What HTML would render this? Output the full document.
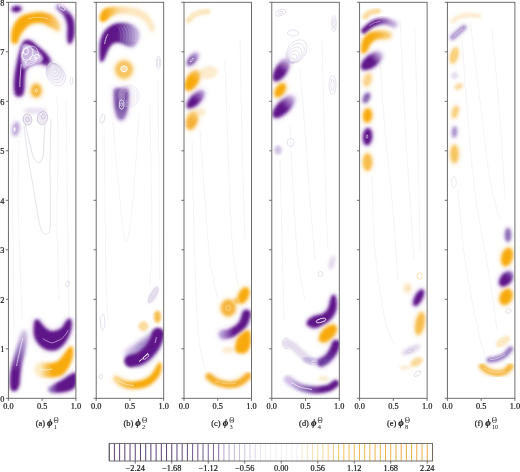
<!DOCTYPE html><html><head><meta charset="utf-8"><style>html,body{margin:0;padding:0;background:#fff;width:520px;height:472px;overflow:hidden}svg{display:block}text{font-family:"Liberation Serif","DejaVu Serif",serif;fill:#111}.t{stroke:#111;stroke-width:0.18px}</style></head><body>
<svg width="520" height="472" viewBox="0 0 520 472">
<defs>
<filter id="b0" x="-50%" y="-50%" width="200%" height="200%"><feGaussianBlur stdDeviation="0.50"/></filter>
<filter id="b1" x="-50%" y="-50%" width="200%" height="200%"><feGaussianBlur stdDeviation="1.10"/></filter>
<filter id="b2" x="-50%" y="-50%" width="200%" height="200%"><feGaussianBlur stdDeviation="1.80"/></filter>
<filter id="b3" x="-50%" y="-50%" width="200%" height="200%"><feGaussianBlur stdDeviation="2.60"/></filter>
<filter id="b4" x="-50%" y="-50%" width="200%" height="200%"><feGaussianBlur stdDeviation="3.50"/></filter>
<clipPath id="c0"><rect x="8.40" y="2.30" width="67.50" height="396.00"/></clipPath>
<clipPath id="c1"><rect x="96.20" y="2.30" width="67.50" height="396.00"/></clipPath>
<clipPath id="c2"><rect x="184.00" y="2.30" width="67.50" height="396.00"/></clipPath>
<clipPath id="c3"><rect x="271.80" y="2.30" width="67.50" height="396.00"/></clipPath>
<clipPath id="c4"><rect x="359.60" y="2.30" width="67.50" height="396.00"/></clipPath>
<clipPath id="c5"><rect x="447.40" y="2.30" width="67.50" height="396.00"/></clipPath>
</defs>
<g clip-path="url(#c0)">
<path d="M19.00,140.00 C18.83,150.00 17.83,180.00 18.00,200.00 C18.17,220.00 19.33,240.00 20.00,260.00 C20.67,280.00 21.67,310.00 22.00,320.00" fill="none" stroke="#e9e7ed" stroke-width="0.50" opacity="1.00"/>
<path d="M57.00,95.00 C57.17,104.17 58.00,129.17 58.00,150.00 C58.00,170.83 56.83,195.00 57.00,220.00 C57.17,245.00 58.67,286.67 59.00,300.00" fill="none" stroke="#e9e7ed" stroke-width="0.50" opacity="1.00"/>
<path d="M66.00,100.00 C66.17,111.67 66.67,145.00 67.00,170.00 C67.33,195.00 67.67,225.00 68.00,250.00 C68.33,275.00 68.83,308.33 69.00,320.00" fill="none" stroke="#e9e7ed" stroke-width="0.50" opacity="1.00"/>
<path d="M12.00,150.00 C12.17,166.67 12.67,220.00 13.00,250.00 C13.33,280.00 13.83,316.67 14.00,330.00" fill="none" stroke="#e9e7ed" stroke-width="0.50" opacity="1.00"/>
<ellipse cx="16.50" cy="9.00" rx="6.60" ry="4.60" transform="rotate(-5.0 16.50 9.00)" fill="#d6bfe8" filter="url(#b3)" opacity="0.85"/>
<ellipse cx="16.50" cy="9.00" rx="5.00" ry="3.00" transform="rotate(-5.0 16.50 9.00)" fill="#5e1288" filter="url(#b2)" opacity="1.00"/>
<path d="M12.00,42.00 C11.38,40.25 11.38,35.92 11.80,33.00 C12.22,30.08 13.22,27.00 14.50,24.50 C15.78,22.00 17.67,19.62 19.50,18.00 C21.33,16.38 23.33,15.60 25.50,14.80 C27.67,14.00 30.08,13.57 32.50,13.20 C34.92,12.83 37.58,12.55 40.00,12.60 C42.42,12.65 44.92,12.97 47.00,13.50 C49.08,14.03 50.92,14.80 52.50,15.80 C54.08,16.80 55.45,18.13 56.50,19.50 C57.55,20.87 58.30,22.33 58.80,24.00 C59.30,25.67 59.72,28.42 59.50,29.50 C59.28,30.58 58.42,30.67 57.50,30.50 C56.58,30.33 55.17,29.12 54.00,28.50 C52.83,27.88 51.92,27.55 50.50,26.80 C49.08,26.05 47.25,24.72 45.50,24.00 C43.75,23.28 42.08,22.62 40.00,22.50 C37.92,22.38 35.17,22.63 33.00,23.30 C30.83,23.97 28.75,25.13 27.00,26.50 C25.25,27.87 23.75,29.92 22.50,31.50 C21.25,33.08 20.25,34.42 19.50,36.00 C18.75,37.58 18.67,39.75 18.00,41.00 C17.33,42.25 16.50,43.33 15.50,43.50 C14.50,43.67 12.62,43.75 12.00,42.00 Z" fill="#fbdca2" stroke="#fbdca2" stroke-width="2.00" stroke-linejoin="round" filter="url(#b3)" opacity="0.85"/>
<defs><linearGradient id="g1" gradientUnits="userSpaceOnUse" x1="40.00" y1="0.00" x2="58.00" y2="0.00"><stop offset="0.000" stop-color="#f7aa10"/><stop offset="0.450" stop-color="#f6b030"/><stop offset="1.000" stop-color="#f8cf80"/></linearGradient></defs>
<path d="M12.00,42.00 C11.38,40.25 11.38,35.92 11.80,33.00 C12.22,30.08 13.22,27.00 14.50,24.50 C15.78,22.00 17.67,19.62 19.50,18.00 C21.33,16.38 23.33,15.60 25.50,14.80 C27.67,14.00 30.08,13.57 32.50,13.20 C34.92,12.83 37.58,12.55 40.00,12.60 C42.42,12.65 44.92,12.97 47.00,13.50 C49.08,14.03 50.92,14.80 52.50,15.80 C54.08,16.80 55.45,18.13 56.50,19.50 C57.55,20.87 58.30,22.33 58.80,24.00 C59.30,25.67 59.72,28.42 59.50,29.50 C59.28,30.58 58.42,30.67 57.50,30.50 C56.58,30.33 55.17,29.12 54.00,28.50 C52.83,27.88 51.92,27.55 50.50,26.80 C49.08,26.05 47.25,24.72 45.50,24.00 C43.75,23.28 42.08,22.62 40.00,22.50 C37.92,22.38 35.17,22.63 33.00,23.30 C30.83,23.97 28.75,25.13 27.00,26.50 C25.25,27.87 23.75,29.92 22.50,31.50 C21.25,33.08 20.25,34.42 19.50,36.00 C18.75,37.58 18.67,39.75 18.00,41.00 C17.33,42.25 16.50,43.33 15.50,43.50 C14.50,43.67 12.62,43.75 12.00,42.00 Z" fill="url(#g1)" filter="url(#b2)" opacity="1.00"/>
<path d="M28.00,19.00 C29.00,18.75 31.67,17.75 34.00,17.50 C36.33,17.25 39.67,17.25 42.00,17.50 C44.33,17.75 47.00,18.75 48.00,19.00" fill="none" stroke="#fbe3b0" stroke-width="0.60" opacity="1.00"/>
<path d="M57.50,5.00 C58.42,4.75 60.50,5.67 62.00,6.50 C63.50,7.33 65.08,8.75 66.50,10.00 C67.92,11.25 69.33,12.33 70.50,14.00 C71.67,15.67 72.83,17.67 73.50,20.00 C74.17,22.33 74.42,25.33 74.50,28.00 C74.58,30.67 74.42,33.75 74.00,36.00 C73.58,38.25 72.70,40.17 72.00,41.50 C71.30,42.83 70.50,44.00 69.80,44.00 C69.10,44.00 68.22,43.00 67.80,41.50 C67.38,40.00 67.35,37.42 67.30,35.00 C67.25,32.58 67.67,29.42 67.50,27.00 C67.33,24.58 66.97,22.50 66.30,20.50 C65.63,18.50 64.63,16.58 63.50,15.00 C62.37,13.42 60.67,12.17 59.50,11.00 C58.33,9.83 56.83,9.00 56.50,8.00 C56.17,7.00 56.58,5.25 57.50,5.00 Z" fill="#d6bfe8" stroke="#d6bfe8" stroke-width="2.00" stroke-linejoin="round" filter="url(#b3)" opacity="0.85"/>
<defs><linearGradient id="g2" gradientUnits="userSpaceOnUse" x1="0.00" y1="6.00" x2="0.00" y2="17.00"><stop offset="0.000" stop-color="#a48ac6"/><stop offset="1.000" stop-color="#5e1288"/></linearGradient></defs>
<path d="M57.50,5.00 C58.42,4.75 60.50,5.67 62.00,6.50 C63.50,7.33 65.08,8.75 66.50,10.00 C67.92,11.25 69.33,12.33 70.50,14.00 C71.67,15.67 72.83,17.67 73.50,20.00 C74.17,22.33 74.42,25.33 74.50,28.00 C74.58,30.67 74.42,33.75 74.00,36.00 C73.58,38.25 72.70,40.17 72.00,41.50 C71.30,42.83 70.50,44.00 69.80,44.00 C69.10,44.00 68.22,43.00 67.80,41.50 C67.38,40.00 67.35,37.42 67.30,35.00 C67.25,32.58 67.67,29.42 67.50,27.00 C67.33,24.58 66.97,22.50 66.30,20.50 C65.63,18.50 64.63,16.58 63.50,15.00 C62.37,13.42 60.67,12.17 59.50,11.00 C58.33,9.83 56.83,9.00 56.50,8.00 C56.17,7.00 56.58,5.25 57.50,5.00 Z" fill="url(#g2)" filter="url(#b2)" opacity="1.00"/>
<ellipse cx="62.00" cy="8.00" rx="3.50" ry="1.60" transform="rotate(35.0 62.00 8.00)" fill="none" stroke="#ffffff" stroke-width="0.60" opacity="1.00"/>
<path d="M15.00,94.00 C14.33,92.08 14.03,88.17 14.00,85.00 C13.97,81.83 14.42,78.17 14.80,75.00 C15.18,71.83 15.65,69.33 16.30,66.00 C16.95,62.67 17.88,58.25 18.70,55.00 C19.52,51.75 20.28,48.83 21.20,46.50 C22.12,44.17 23.07,42.08 24.20,41.00 C25.33,39.92 26.70,39.92 28.00,40.00 C29.30,40.08 30.33,40.42 32.00,41.50 C33.67,42.58 36.00,44.83 38.00,46.50 C40.00,48.17 42.25,49.83 44.00,51.50 C45.75,53.17 47.30,54.75 48.50,56.50 C49.70,58.25 50.85,60.37 51.20,62.00 C51.55,63.63 51.30,65.63 50.60,66.30 C49.90,66.97 48.27,66.38 47.00,66.00 C45.73,65.62 44.50,64.47 43.00,64.00 C41.50,63.53 39.75,63.17 38.00,63.20 C36.25,63.23 34.08,63.65 32.50,64.20 C30.92,64.75 29.67,65.37 28.50,66.50 C27.33,67.63 26.17,68.75 25.50,71.00 C24.83,73.25 24.72,77.00 24.50,80.00 C24.28,83.00 24.53,86.50 24.20,89.00 C23.87,91.50 23.53,93.75 22.50,95.00 C21.47,96.25 19.25,96.67 18.00,96.50 C16.75,96.33 15.67,95.92 15.00,94.00 Z" fill="#d6bfe8" stroke="#d6bfe8" stroke-width="2.50" stroke-linejoin="round" filter="url(#b3)" opacity="0.85"/>
<path d="M15.00,94.00 C14.33,92.08 14.03,88.17 14.00,85.00 C13.97,81.83 14.42,78.17 14.80,75.00 C15.18,71.83 15.65,69.33 16.30,66.00 C16.95,62.67 17.88,58.25 18.70,55.00 C19.52,51.75 20.28,48.83 21.20,46.50 C22.12,44.17 23.07,42.08 24.20,41.00 C25.33,39.92 26.70,39.92 28.00,40.00 C29.30,40.08 30.33,40.42 32.00,41.50 C33.67,42.58 36.00,44.83 38.00,46.50 C40.00,48.17 42.25,49.83 44.00,51.50 C45.75,53.17 47.30,54.75 48.50,56.50 C49.70,58.25 50.85,60.37 51.20,62.00 C51.55,63.63 51.30,65.63 50.60,66.30 C49.90,66.97 48.27,66.38 47.00,66.00 C45.73,65.62 44.50,64.47 43.00,64.00 C41.50,63.53 39.75,63.17 38.00,63.20 C36.25,63.23 34.08,63.65 32.50,64.20 C30.92,64.75 29.67,65.37 28.50,66.50 C27.33,67.63 26.17,68.75 25.50,71.00 C24.83,73.25 24.72,77.00 24.50,80.00 C24.28,83.00 24.53,86.50 24.20,89.00 C23.87,91.50 23.53,93.75 22.50,95.00 C21.47,96.25 19.25,96.67 18.00,96.50 C16.75,96.33 15.67,95.92 15.00,94.00 Z" fill="#5e1288" filter="url(#b2)" opacity="1.00"/>
<path d="M22.00,46.00 C23.00,44.00 25.17,43.75 27.00,44.00 C28.83,44.25 30.83,46.00 33.00,47.50 C35.17,49.00 38.33,51.25 40.00,53.00 C41.67,54.75 42.83,56.42 43.00,58.00 C43.17,59.58 42.33,61.42 41.00,62.50 C39.67,63.58 37.00,63.92 35.00,64.50 C33.00,65.08 30.67,65.25 29.00,66.00 C27.33,66.75 26.17,69.00 25.00,69.00 C23.83,69.00 22.67,68.17 22.00,66.00 C21.33,63.83 21.00,59.33 21.00,56.00 C21.00,52.67 21.00,48.00 22.00,46.00 Z" fill="#cdb8e4" filter="url(#b1)" opacity="1.00"/>
<ellipse cx="33.00" cy="58.00" rx="3.50" ry="2.20" transform="rotate(-20.0 33.00 58.00)" fill="none" stroke="#ffffff" stroke-width="0.70" opacity="1.00"/>
<ellipse cx="31.00" cy="61.50" rx="6.00" ry="3.00" transform="rotate(-25.0 31.00 61.50)" fill="none" stroke="#ffffff" stroke-width="0.60" opacity="1.00"/>
<ellipse cx="25.80" cy="51.30" rx="2.60" ry="3.40" transform="rotate(0.0 25.80 51.30)" fill="none" stroke="#ffffff" stroke-width="0.90" opacity="1.00"/>
<ellipse cx="37.00" cy="56.50" rx="2.60" ry="2.10" transform="rotate(0.0 37.00 56.50)" fill="none" stroke="#ffffff" stroke-width="0.90" opacity="1.00"/>
<ellipse cx="27.50" cy="53.50" rx="5.00" ry="7.00" transform="rotate(25.0 27.50 53.50)" fill="none" stroke="#ffffff" stroke-width="0.70" opacity="1.00"/>
<ellipse cx="30.00" cy="54.50" rx="8.00" ry="9.00" transform="rotate(40.0 30.00 54.50)" fill="none" stroke="#f4eefa" stroke-width="0.60" opacity="1.00"/>
<path d="M21.30,64.00 C21.17,65.33 20.72,69.33 20.50,72.00 C20.28,74.67 20.12,77.50 20.00,80.00 C19.88,82.50 19.83,85.83 19.80,87.00" fill="none" stroke="#d8c8e8" stroke-width="0.90" opacity="1.00"/>
<ellipse cx="36.20" cy="90.60" rx="6.80" ry="8.30" transform="rotate(0.0 36.20 90.60)" fill="#fbdca2" filter="url(#b3)" opacity="0.85"/>
<ellipse cx="36.20" cy="90.60" rx="5.00" ry="6.50" transform="rotate(0.0 36.20 90.60)" fill="#f5b53a" filter="url(#b2)" opacity="1.00"/>
<ellipse cx="36.30" cy="90.60" rx="1.30" ry="1.60" transform="rotate(0.0 36.30 90.60)" fill="none" stroke="#ffffff" stroke-width="0.60" opacity="1.00"/>
<ellipse cx="56.00" cy="72.00" rx="7.00" ry="11.00" transform="rotate(-30.0 56.00 72.00)" fill="#f1edf5" filter="url(#b3)" opacity="1.00"/>
<ellipse cx="51.00" cy="65.00" rx="1.50" ry="2.50" transform="rotate(-30.0 51.00 65.00)" fill="none" stroke="#cdc2dc" stroke-width="0.50" opacity="0.85"/>
<ellipse cx="51.80" cy="66.60" rx="2.70" ry="4.10" transform="rotate(-30.0 51.80 66.60)" fill="none" stroke="#cdc2dc" stroke-width="0.50" opacity="0.85"/>
<ellipse cx="52.60" cy="68.20" rx="3.90" ry="5.70" transform="rotate(-30.0 52.60 68.20)" fill="none" stroke="#cdc2dc" stroke-width="0.50" opacity="0.85"/>
<ellipse cx="53.40" cy="69.80" rx="5.10" ry="7.30" transform="rotate(-30.0 53.40 69.80)" fill="none" stroke="#cdc2dc" stroke-width="0.50" opacity="0.85"/>
<ellipse cx="54.20" cy="71.40" rx="6.30" ry="8.90" transform="rotate(-30.0 54.20 71.40)" fill="none" stroke="#cdc2dc" stroke-width="0.50" opacity="0.85"/>
<ellipse cx="55.00" cy="73.00" rx="7.50" ry="10.50" transform="rotate(-30.0 55.00 73.00)" fill="none" stroke="#cdc2dc" stroke-width="0.50" opacity="0.85"/>
<ellipse cx="55.80" cy="74.60" rx="8.70" ry="12.10" transform="rotate(-30.0 55.80 74.60)" fill="none" stroke="#cdc2dc" stroke-width="0.50" opacity="0.85"/>
<ellipse cx="71.40" cy="80.70" rx="1.30" ry="3.50" transform="rotate(0.0 71.40 80.70)" fill="none" stroke="#cdc2da" stroke-width="0.50" opacity="1.00"/>
<ellipse cx="67.50" cy="284.00" rx="1.80" ry="3.00" transform="rotate(20.0 67.50 284.00)" fill="none" stroke="#cdc2da" stroke-width="0.50" opacity="1.00"/>
<ellipse cx="35.50" cy="111.00" rx="12.00" ry="3.50" transform="rotate(0.0 35.50 111.00)" fill="#e4dcee" filter="url(#b2)" opacity="0.80"/>
<ellipse cx="27.50" cy="119.50" rx="4.00" ry="5.00" transform="rotate(-10.0 27.50 119.50)" fill="#ece6f2" filter="url(#b1)" opacity="1.00"/>
<ellipse cx="42.50" cy="118.00" rx="4.50" ry="6.00" transform="rotate(15.0 42.50 118.00)" fill="#ece6f2" filter="url(#b1)" opacity="1.00"/>
<ellipse cx="27.50" cy="119.50" rx="4.30" ry="5.50" transform="rotate(-10.0 27.50 119.50)" fill="none" stroke="#b8aac8" stroke-width="0.60" opacity="1.00"/>
<ellipse cx="27.50" cy="119.50" rx="1.80" ry="2.50" transform="rotate(-10.0 27.50 119.50)" fill="none" stroke="#b8aac8" stroke-width="0.50" opacity="1.00"/>
<ellipse cx="42.50" cy="118.00" rx="5.00" ry="6.50" transform="rotate(15.0 42.50 118.00)" fill="none" stroke="#b8aac8" stroke-width="0.60" opacity="1.00"/>
<ellipse cx="43.50" cy="116.50" rx="1.80" ry="2.40" transform="rotate(15.0 43.50 116.50)" fill="none" stroke="#b8aac8" stroke-width="0.50" opacity="1.00"/>
<path d="M25.00,123.00 C25.67,125.83 27.58,134.33 29.00,140.00 C30.42,145.67 31.92,153.25 33.50,157.00 C35.08,160.75 36.92,162.50 38.50,162.50 C40.08,162.50 42.08,160.75 43.00,157.00 C43.92,153.25 43.67,145.50 44.00,140.00 C44.33,134.50 44.83,126.67 45.00,124.00" fill="none" stroke="#cfc8d8" stroke-width="0.60" opacity="1.00"/>
<path d="M24.00,126.00 C24.50,130.00 25.67,141.00 27.00,150.00 C28.33,159.00 30.33,170.00 32.00,180.00 C33.67,190.00 35.50,201.83 37.00,210.00 C38.50,218.17 39.58,225.00 41.00,229.00 C42.42,233.00 44.00,234.00 45.50,234.00 C47.00,234.00 49.17,234.67 50.00,229.00 C50.83,223.33 50.50,209.83 50.50,200.00 C50.50,190.17 50.00,180.00 50.00,170.00 C50.00,160.00 50.33,148.50 50.50,140.00 C50.67,131.50 50.92,122.50 51.00,119.00" fill="none" stroke="#d6d0dc" stroke-width="0.60" opacity="1.00"/>
<ellipse cx="15.80" cy="129.00" rx="4.70" ry="8.50" transform="rotate(10.0 15.80 129.00)" fill="#e6def0" filter="url(#b3)" opacity="0.85"/>
<ellipse cx="15.80" cy="129.00" rx="3.20" ry="7.00" transform="rotate(10.0 15.80 129.00)" fill="#bea8d8" filter="url(#b2)" opacity="1.00"/>
<ellipse cx="14.60" cy="129.50" rx="0.90" ry="2.60" transform="rotate(10.0 14.60 129.50)" fill="#ffffff" filter="url(#b0)" opacity="1.00"/>
<path d="M35.00,320.50 C34.22,321.83 33.88,325.25 33.80,328.00 C33.72,330.75 33.63,334.25 34.50,337.00 C35.37,339.75 37.08,342.42 39.00,344.50 C40.92,346.58 43.50,348.50 46.00,349.50 C48.50,350.50 51.58,350.83 54.00,350.50 C56.42,350.17 58.58,348.92 60.50,347.50 C62.42,346.08 64.00,344.17 65.50,342.00 C67.00,339.83 68.47,337.17 69.50,334.50 C70.53,331.83 71.45,328.50 71.70,326.00 C71.95,323.50 71.53,320.67 71.00,319.50 C70.47,318.33 69.42,318.58 68.50,319.00 C67.58,319.42 66.58,320.58 65.50,322.00 C64.42,323.42 63.50,326.08 62.00,327.50 C60.50,328.92 58.33,329.92 56.50,330.50 C54.67,331.08 52.75,331.33 51.00,331.00 C49.25,330.67 47.58,329.75 46.00,328.50 C44.42,327.25 42.75,324.92 41.50,323.50 C40.25,322.08 39.58,320.50 38.50,320.00 C37.42,319.50 35.78,319.17 35.00,320.50 Z" fill="#d6bfe8" stroke="#d6bfe8" stroke-width="2.50" stroke-linejoin="round" filter="url(#b3)" opacity="0.85"/>
<path d="M35.00,320.50 C34.22,321.83 33.88,325.25 33.80,328.00 C33.72,330.75 33.63,334.25 34.50,337.00 C35.37,339.75 37.08,342.42 39.00,344.50 C40.92,346.58 43.50,348.50 46.00,349.50 C48.50,350.50 51.58,350.83 54.00,350.50 C56.42,350.17 58.58,348.92 60.50,347.50 C62.42,346.08 64.00,344.17 65.50,342.00 C67.00,339.83 68.47,337.17 69.50,334.50 C70.53,331.83 71.45,328.50 71.70,326.00 C71.95,323.50 71.53,320.67 71.00,319.50 C70.47,318.33 69.42,318.58 68.50,319.00 C67.58,319.42 66.58,320.58 65.50,322.00 C64.42,323.42 63.50,326.08 62.00,327.50 C60.50,328.92 58.33,329.92 56.50,330.50 C54.67,331.08 52.75,331.33 51.00,331.00 C49.25,330.67 47.58,329.75 46.00,328.50 C44.42,327.25 42.75,324.92 41.50,323.50 C40.25,322.08 39.58,320.50 38.50,320.00 C37.42,319.50 35.78,319.17 35.00,320.50 Z" fill="#5e1288" filter="url(#b2)" opacity="1.00"/>
<path d="M42.70,338.60 C43.42,339.00 45.42,340.30 47.00,341.00 C48.58,341.70 50.53,342.80 52.20,342.80 C53.87,342.80 55.40,341.70 57.00,341.00 C58.60,340.30 60.30,339.77 61.80,338.60 C63.30,337.43 64.97,335.43 66.00,334.00 C67.03,332.57 67.67,330.67 68.00,330.00" fill="none" stroke="#c8a8e0" stroke-width="0.80" opacity="1.00"/>
<path d="M36.00,372.00 C36.58,373.75 38.83,375.17 40.50,376.00 C42.17,376.83 43.75,376.83 46.00,377.00 C48.25,377.17 51.42,377.28 54.00,377.00 C56.58,376.72 59.37,376.47 61.50,375.30 C63.63,374.13 65.28,372.05 66.80,370.00 C68.32,367.95 69.63,365.33 70.60,363.00 C71.57,360.67 72.23,358.33 72.60,356.00 C72.97,353.67 72.98,350.58 72.80,349.00 C72.62,347.42 72.13,346.70 71.50,346.50 C70.87,346.30 69.92,346.97 69.00,347.80 C68.08,348.63 67.17,349.97 66.00,351.50 C64.83,353.03 63.33,355.42 62.00,357.00 C60.67,358.58 59.33,360.03 58.00,361.00 C56.67,361.97 55.67,362.42 54.00,362.80 C52.33,363.18 50.17,363.22 48.00,363.30 C45.83,363.38 42.83,362.93 41.00,363.30 C39.17,363.67 37.83,364.05 37.00,365.50 C36.17,366.95 35.42,370.25 36.00,372.00 Z" fill="#fde9c4" stroke="#fde9c4" stroke-width="2.00" stroke-linejoin="round" filter="url(#b3)" opacity="0.85"/>
<defs><linearGradient id="g3" gradientUnits="userSpaceOnUse" x1="40.00" y1="0.00" x2="52.00" y2="0.00"><stop offset="0.000" stop-color="#fcecc8"/><stop offset="0.500" stop-color="#f8c860"/><stop offset="1.000" stop-color="#f7aa10"/></linearGradient></defs>
<path d="M36.00,372.00 C36.58,373.75 38.83,375.17 40.50,376.00 C42.17,376.83 43.75,376.83 46.00,377.00 C48.25,377.17 51.42,377.28 54.00,377.00 C56.58,376.72 59.37,376.47 61.50,375.30 C63.63,374.13 65.28,372.05 66.80,370.00 C68.32,367.95 69.63,365.33 70.60,363.00 C71.57,360.67 72.23,358.33 72.60,356.00 C72.97,353.67 72.98,350.58 72.80,349.00 C72.62,347.42 72.13,346.70 71.50,346.50 C70.87,346.30 69.92,346.97 69.00,347.80 C68.08,348.63 67.17,349.97 66.00,351.50 C64.83,353.03 63.33,355.42 62.00,357.00 C60.67,358.58 59.33,360.03 58.00,361.00 C56.67,361.97 55.67,362.42 54.00,362.80 C52.33,363.18 50.17,363.22 48.00,363.30 C45.83,363.38 42.83,362.93 41.00,363.30 C39.17,363.67 37.83,364.05 37.00,365.50 C36.17,366.95 35.42,370.25 36.00,372.00 Z" fill="url(#g3)" filter="url(#b2)" opacity="1.00"/>
<path d="M40.00,369.00 C41.00,369.17 44.00,370.00 46.00,370.00 C48.00,370.00 51.00,369.17 52.00,369.00" fill="none" stroke="#ffffff" stroke-width="0.60" opacity="1.00"/>
<path d="M48.50,388.50 C48.83,387.53 50.58,386.95 52.00,386.00 C53.42,385.05 55.17,383.88 57.00,382.80 C58.83,381.72 61.17,380.63 63.00,379.50 C64.83,378.37 66.50,376.92 68.00,376.00 C69.50,375.08 70.75,374.50 72.00,374.00 C73.25,373.50 74.75,371.83 75.50,373.00 C76.25,374.17 76.67,378.58 76.50,381.00 C76.33,383.42 75.75,385.87 74.50,387.50 C73.25,389.13 71.08,390.00 69.00,390.80 C66.92,391.60 64.33,392.00 62.00,392.30 C59.67,392.60 57.00,392.68 55.00,392.60 C53.00,392.52 51.08,392.48 50.00,391.80 C48.92,391.12 48.17,389.47 48.50,388.50 Z" fill="#d6bfe8" stroke="#d6bfe8" stroke-width="2.00" stroke-linejoin="round" filter="url(#b3)" opacity="0.85"/>
<defs><linearGradient id="g4" gradientUnits="userSpaceOnUse" x1="49.00" y1="0.00" x2="58.00" y2="0.00"><stop offset="0.000" stop-color="#a088c4"/><stop offset="1.000" stop-color="#5e1288"/></linearGradient></defs>
<path d="M48.50,388.50 C48.83,387.53 50.58,386.95 52.00,386.00 C53.42,385.05 55.17,383.88 57.00,382.80 C58.83,381.72 61.17,380.63 63.00,379.50 C64.83,378.37 66.50,376.92 68.00,376.00 C69.50,375.08 70.75,374.50 72.00,374.00 C73.25,373.50 74.75,371.83 75.50,373.00 C76.25,374.17 76.67,378.58 76.50,381.00 C76.33,383.42 75.75,385.87 74.50,387.50 C73.25,389.13 71.08,390.00 69.00,390.80 C66.92,391.60 64.33,392.00 62.00,392.30 C59.67,392.60 57.00,392.68 55.00,392.60 C53.00,392.52 51.08,392.48 50.00,391.80 C48.92,391.12 48.17,389.47 48.50,388.50 Z" fill="url(#g4)" filter="url(#b2)" opacity="1.00"/>
<path d="M10.80,389.00 C9.88,386.83 9.93,381.50 10.00,378.00 C10.07,374.50 10.57,371.33 11.20,368.00 C11.83,364.67 12.87,361.33 13.80,358.00 C14.73,354.67 15.80,351.17 16.80,348.00 C17.80,344.83 18.83,341.75 19.80,339.00 C20.77,336.25 21.57,332.67 22.60,331.50 C23.63,330.33 25.35,330.42 26.00,332.00 C26.65,333.58 26.75,337.50 26.50,341.00 C26.25,344.50 25.28,349.17 24.50,353.00 C23.72,356.83 22.52,360.33 21.80,364.00 C21.08,367.67 20.63,371.42 20.20,375.00 C19.77,378.58 19.98,382.83 19.20,385.50 C18.42,388.17 16.90,390.42 15.50,391.00 C14.10,391.58 11.72,391.17 10.80,389.00 Z" fill="#e0d4ec" stroke="#e0d4ec" stroke-width="2.00" stroke-linejoin="round" filter="url(#b3)" opacity="0.85"/>
<defs><linearGradient id="g5" gradientUnits="userSpaceOnUse" x1="0.00" y1="334.00" x2="0.00" y2="372.00"><stop offset="0.000" stop-color="#d0c0e4"/><stop offset="0.450" stop-color="#9a7cc0"/><stop offset="1.000" stop-color="#5e1288"/></linearGradient></defs>
<path d="M10.80,389.00 C9.88,386.83 9.93,381.50 10.00,378.00 C10.07,374.50 10.57,371.33 11.20,368.00 C11.83,364.67 12.87,361.33 13.80,358.00 C14.73,354.67 15.80,351.17 16.80,348.00 C17.80,344.83 18.83,341.75 19.80,339.00 C20.77,336.25 21.57,332.67 22.60,331.50 C23.63,330.33 25.35,330.42 26.00,332.00 C26.65,333.58 26.75,337.50 26.50,341.00 C26.25,344.50 25.28,349.17 24.50,353.00 C23.72,356.83 22.52,360.33 21.80,364.00 C21.08,367.67 20.63,371.42 20.20,375.00 C19.77,378.58 19.98,382.83 19.20,385.50 C18.42,388.17 16.90,390.42 15.50,391.00 C14.10,391.58 11.72,391.17 10.80,389.00 Z" fill="url(#g5)" filter="url(#b2)" opacity="1.00"/>
<path d="M16.50,366.00 C17.00,363.67 18.45,356.67 19.50,352.00 C20.55,347.33 22.25,340.33 22.80,338.00" fill="none" stroke="#ffffff" stroke-width="0.60" opacity="1.00"/>
</g>
<g clip-path="url(#c1)">
<path d="M113.00,122.00 C113.50,128.33 114.83,147.00 116.00,160.00 C117.17,173.00 118.67,187.33 120.00,200.00 C121.33,212.67 122.67,229.67 124.00,236.00 C125.33,242.33 126.50,244.00 128.00,238.00 C129.50,232.00 131.67,213.00 133.00,200.00 C134.33,187.00 135.00,174.67 136.00,160.00 C137.00,145.33 138.50,120.00 139.00,112.00" fill="none" stroke="#e9e7ed" stroke-width="0.50" opacity="1.00"/>
<path d="M104.00,130.00 C104.17,141.67 104.67,175.00 105.00,200.00 C105.33,225.00 105.50,260.00 106.00,280.00 C106.50,300.00 107.67,313.33 108.00,320.00" fill="none" stroke="#e9e7ed" stroke-width="0.50" opacity="1.00"/>
<path d="M150.00,105.00 C150.17,115.83 150.67,147.50 151.00,170.00 C151.33,192.50 152.17,220.83 152.00,240.00 C151.83,259.17 150.33,277.50 150.00,285.00" fill="none" stroke="#e9e7ed" stroke-width="0.50" opacity="1.00"/>
<path d="M158.00,80.00 C158.17,96.67 158.67,146.67 159.00,180.00 C159.33,213.33 159.83,263.33 160.00,280.00" fill="none" stroke="#e9e7ed" stroke-width="0.50" opacity="1.00"/>
<path d="M99.80,18.00 C99.72,16.42 100.63,14.03 101.50,12.50 C102.37,10.97 103.58,9.67 105.00,8.80 C106.42,7.93 108.17,7.60 110.00,7.30 C111.83,7.00 113.67,7.00 116.00,7.00 C118.33,7.00 121.33,7.08 124.00,7.30 C126.67,7.52 129.33,7.77 132.00,8.30 C134.67,8.83 137.67,9.47 140.00,10.50 C142.33,11.53 144.25,12.92 146.00,14.50 C147.75,16.08 149.25,17.83 150.50,20.00 C151.75,22.17 153.08,25.67 153.50,27.50 C153.92,29.33 153.42,30.50 153.00,31.00 C152.58,31.50 151.78,31.58 151.00,30.50 C150.22,29.42 149.47,26.33 148.30,24.50 C147.13,22.67 145.72,20.92 144.00,19.50 C142.28,18.08 140.33,16.95 138.00,16.00 C135.67,15.05 132.67,14.25 130.00,13.80 C127.33,13.35 124.33,13.27 122.00,13.30 C119.67,13.33 117.92,13.42 116.00,14.00 C114.08,14.58 112.17,15.72 110.50,16.80 C108.83,17.88 107.42,19.63 106.00,20.50 C104.58,21.37 103.03,22.42 102.00,22.00 C100.97,21.58 99.88,19.58 99.80,18.00 Z" fill="#fdebc8" stroke="#fdebc8" stroke-width="1.50" stroke-linejoin="round" filter="url(#b3)" opacity="0.85"/>
<defs><linearGradient id="g6" gradientUnits="userSpaceOnUse" x1="106.00" y1="0.00" x2="130.00" y2="0.00"><stop offset="0.000" stop-color="#f7aa10"/><stop offset="0.250" stop-color="#f7c050"/><stop offset="0.550" stop-color="#fadaa0"/><stop offset="1.000" stop-color="#fce6c0"/></linearGradient></defs>
<path d="M99.80,18.00 C99.72,16.42 100.63,14.03 101.50,12.50 C102.37,10.97 103.58,9.67 105.00,8.80 C106.42,7.93 108.17,7.60 110.00,7.30 C111.83,7.00 113.67,7.00 116.00,7.00 C118.33,7.00 121.33,7.08 124.00,7.30 C126.67,7.52 129.33,7.77 132.00,8.30 C134.67,8.83 137.67,9.47 140.00,10.50 C142.33,11.53 144.25,12.92 146.00,14.50 C147.75,16.08 149.25,17.83 150.50,20.00 C151.75,22.17 153.08,25.67 153.50,27.50 C153.92,29.33 153.42,30.50 153.00,31.00 C152.58,31.50 151.78,31.58 151.00,30.50 C150.22,29.42 149.47,26.33 148.30,24.50 C147.13,22.67 145.72,20.92 144.00,19.50 C142.28,18.08 140.33,16.95 138.00,16.00 C135.67,15.05 132.67,14.25 130.00,13.80 C127.33,13.35 124.33,13.27 122.00,13.30 C119.67,13.33 117.92,13.42 116.00,14.00 C114.08,14.58 112.17,15.72 110.50,16.80 C108.83,17.88 107.42,19.63 106.00,20.50 C104.58,21.37 103.03,22.42 102.00,22.00 C100.97,21.58 99.88,19.58 99.80,18.00 Z" fill="url(#g6)" filter="url(#b2)" opacity="1.00"/>
<path d="M100.40,61.00 C99.82,59.50 99.60,54.83 99.50,52.00 C99.40,49.17 99.47,46.50 99.80,44.00 C100.13,41.50 100.72,39.12 101.50,37.00 C102.28,34.88 103.25,32.97 104.50,31.30 C105.75,29.63 107.45,28.17 109.00,27.00 C110.55,25.83 111.97,24.97 113.80,24.30 C115.63,23.63 117.87,23.18 120.00,23.00 C122.13,22.82 124.60,22.87 126.60,23.20 C128.60,23.53 130.27,24.03 132.00,25.00 C133.73,25.97 135.83,27.50 137.00,29.00 C138.17,30.50 138.78,32.33 139.00,34.00 C139.22,35.67 138.80,37.33 138.30,39.00 C137.80,40.67 136.97,42.75 136.00,44.00 C135.03,45.25 134.00,46.17 132.50,46.50 C131.00,46.83 128.58,46.42 127.00,46.00 C125.42,45.58 124.67,44.58 123.00,44.00 C121.33,43.42 118.83,42.42 117.00,42.50 C115.17,42.58 113.42,43.42 112.00,44.50 C110.58,45.58 109.50,47.25 108.50,49.00 C107.50,50.75 106.92,53.00 106.00,55.00 C105.08,57.00 103.93,60.00 103.00,61.00 C102.07,62.00 100.98,62.50 100.40,61.00 Z" fill="#e0d6ee" stroke="#e0d6ee" stroke-width="2.00" stroke-linejoin="round" filter="url(#b3)" opacity="0.85"/>
<defs><linearGradient id="g7" gradientUnits="userSpaceOnUse" x1="108.00" y1="0.00" x2="138.00" y2="0.00"><stop offset="0.000" stop-color="#5e1288"/><stop offset="0.300" stop-color="#5e1288"/><stop offset="0.550" stop-color="#7a52a8"/><stop offset="1.000" stop-color="#c8b6e0"/></linearGradient></defs>
<path d="M100.40,61.00 C99.82,59.50 99.60,54.83 99.50,52.00 C99.40,49.17 99.47,46.50 99.80,44.00 C100.13,41.50 100.72,39.12 101.50,37.00 C102.28,34.88 103.25,32.97 104.50,31.30 C105.75,29.63 107.45,28.17 109.00,27.00 C110.55,25.83 111.97,24.97 113.80,24.30 C115.63,23.63 117.87,23.18 120.00,23.00 C122.13,22.82 124.60,22.87 126.60,23.20 C128.60,23.53 130.27,24.03 132.00,25.00 C133.73,25.97 135.83,27.50 137.00,29.00 C138.17,30.50 138.78,32.33 139.00,34.00 C139.22,35.67 138.80,37.33 138.30,39.00 C137.80,40.67 136.97,42.75 136.00,44.00 C135.03,45.25 134.00,46.17 132.50,46.50 C131.00,46.83 128.58,46.42 127.00,46.00 C125.42,45.58 124.67,44.58 123.00,44.00 C121.33,43.42 118.83,42.42 117.00,42.50 C115.17,42.58 113.42,43.42 112.00,44.50 C110.58,45.58 109.50,47.25 108.50,49.00 C107.50,50.75 106.92,53.00 106.00,55.00 C105.08,57.00 103.93,60.00 103.00,61.00 C102.07,62.00 100.98,62.50 100.40,61.00 Z" fill="url(#g7)" filter="url(#b2)" opacity="1.00"/>
<path d="M104.60,44.00 C104.83,43.00 105.43,39.67 106.00,38.00 C106.57,36.33 107.67,34.67 108.00,34.00" fill="none" stroke="#ffffff" stroke-width="0.70" opacity="1.00"/>
<path d="M118.00,26.00 C118.50,27.33 120.67,31.33 121.00,34.00 C121.33,36.67 120.17,40.67 120.00,42.00" fill="none" stroke="#ffffff" stroke-width="0.40" opacity="0.35"/>
<path d="M121.00,26.00 C121.50,27.33 123.67,31.33 124.00,34.00 C124.33,36.67 123.17,40.67 123.00,42.00" fill="none" stroke="#ffffff" stroke-width="0.40" opacity="0.35"/>
<path d="M124.00,26.00 C124.50,27.33 126.67,31.33 127.00,34.00 C127.33,36.67 126.17,40.67 126.00,42.00" fill="none" stroke="#ffffff" stroke-width="0.40" opacity="0.35"/>
<path d="M127.00,26.00 C127.50,27.33 129.67,31.33 130.00,34.00 C130.33,36.67 129.17,40.67 129.00,42.00" fill="none" stroke="#ffffff" stroke-width="0.40" opacity="0.35"/>
<path d="M130.00,26.00 C130.50,27.33 132.67,31.33 133.00,34.00 C133.33,36.67 132.17,40.67 132.00,42.00" fill="none" stroke="#ffffff" stroke-width="0.40" opacity="0.35"/>
<path d="M133.00,26.00 C133.50,27.33 135.67,31.33 136.00,34.00 C136.33,36.67 135.17,40.67 135.00,42.00" fill="none" stroke="#ffffff" stroke-width="0.40" opacity="0.35"/>
<ellipse cx="124.00" cy="69.50" rx="10.10" ry="10.60" transform="rotate(0.0 124.00 69.50)" fill="#fbdca2" filter="url(#b3)" opacity="0.85"/>
<ellipse cx="124.00" cy="69.50" rx="8.30" ry="8.80" transform="rotate(0.0 124.00 69.50)" fill="#f7c462" filter="url(#b2)" opacity="1.00"/>
<ellipse cx="124.00" cy="68.80" rx="3.20" ry="2.80" transform="rotate(0.0 124.00 68.80)" fill="#fbe2b0" filter="url(#b1)" opacity="1.00"/>
<ellipse cx="124.00" cy="68.80" rx="3.20" ry="2.80" transform="rotate(0.0 124.00 68.80)" fill="none" stroke="#ffffff" stroke-width="0.90" opacity="1.00"/>
<ellipse cx="158.50" cy="62.50" rx="2.20" ry="6.50" transform="rotate(0.0 158.50 62.50)" fill="none" stroke="#cdc2da" stroke-width="0.50" opacity="1.00"/>
<ellipse cx="158.50" cy="62.50" rx="1.00" ry="4.00" transform="rotate(0.0 158.50 62.50)" fill="none" stroke="#cdc2da" stroke-width="0.50" opacity="1.00"/>
<path d="M114.50,89.50 C115.63,87.75 118.75,88.50 121.00,88.50 C123.25,88.50 126.75,87.58 128.00,89.50 C129.25,91.42 128.67,96.42 128.50,100.00 C128.33,103.58 127.83,107.83 127.00,111.00 C126.17,114.17 124.92,117.67 123.50,119.00 C122.08,120.33 119.88,120.50 118.50,119.00 C117.12,117.50 115.92,113.33 115.20,110.00 C114.48,106.67 114.32,102.42 114.20,99.00 C114.08,95.58 113.37,91.25 114.50,89.50 Z" fill="#d6bfe8" stroke="#d6bfe8" stroke-width="2.50" stroke-linejoin="round" filter="url(#b3)" opacity="0.85"/>
<defs><linearGradient id="g8" x1="0" y1="0" x2="0" y2="1"><stop offset="0.000" stop-color="#8a66b2"/><stop offset="0.500" stop-color="#744ca2"/><stop offset="1.000" stop-color="#9a7cc0"/></linearGradient></defs>
<path d="M114.50,89.50 C115.63,87.75 118.75,88.50 121.00,88.50 C123.25,88.50 126.75,87.58 128.00,89.50 C129.25,91.42 128.67,96.42 128.50,100.00 C128.33,103.58 127.83,107.83 127.00,111.00 C126.17,114.17 124.92,117.67 123.50,119.00 C122.08,120.33 119.88,120.50 118.50,119.00 C117.12,117.50 115.92,113.33 115.20,110.00 C114.48,106.67 114.32,102.42 114.20,99.00 C114.08,95.58 113.37,91.25 114.50,89.50 Z" fill="url(#g8)" filter="url(#b2)" opacity="1.00"/>
<ellipse cx="121.60" cy="104.50" rx="2.30" ry="4.60" transform="rotate(0.0 121.60 104.50)" fill="none" stroke="#ffffff" stroke-width="0.80" opacity="1.00"/>
<ellipse cx="121.60" cy="104.50" rx="0.90" ry="2.00" transform="rotate(0.0 121.60 104.50)" fill="none" stroke="#ffffff" stroke-width="0.60" opacity="1.00"/>
<ellipse cx="127.00" cy="96.00" rx="3.00" ry="5.00" transform="rotate(0.0 127.00 96.00)" fill="none" stroke="#d6cce2" stroke-width="0.50" opacity="0.85"/>
<ellipse cx="127.50" cy="96.00" rx="4.80" ry="6.50" transform="rotate(0.0 127.50 96.00)" fill="none" stroke="#d6cce2" stroke-width="0.50" opacity="0.85"/>
<ellipse cx="128.00" cy="96.00" rx="6.60" ry="8.00" transform="rotate(0.0 128.00 96.00)" fill="none" stroke="#d6cce2" stroke-width="0.50" opacity="0.85"/>
<ellipse cx="128.50" cy="96.00" rx="8.40" ry="9.50" transform="rotate(0.0 128.50 96.00)" fill="none" stroke="#d6cce2" stroke-width="0.50" opacity="0.85"/>
<ellipse cx="129.00" cy="96.00" rx="10.20" ry="11.00" transform="rotate(0.0 129.00 96.00)" fill="none" stroke="#d6cce2" stroke-width="0.50" opacity="0.85"/>
<ellipse cx="102.50" cy="118.70" rx="2.20" ry="4.50" transform="rotate(10.0 102.50 118.70)" fill="none" stroke="#cdc2da" stroke-width="0.50" opacity="1.00"/>
<ellipse cx="153.30" cy="295.00" rx="3.00" ry="9.50" transform="rotate(30.0 153.30 295.00)" fill="#e4dcee" filter="url(#b2)" opacity="1.00"/>
<ellipse cx="153.30" cy="295.00" rx="2.40" ry="8.50" transform="rotate(30.0 153.30 295.00)" fill="none" stroke="#c4b8d4" stroke-width="0.50" opacity="1.00"/>
<ellipse cx="102.70" cy="322.00" rx="2.20" ry="8.00" transform="rotate(0.0 102.70 322.00)" fill="none" stroke="#cdc2da" stroke-width="0.50" opacity="1.00"/>
<ellipse cx="157.50" cy="316.80" rx="3.50" ry="6.30" transform="rotate(0.0 157.50 316.80)" fill="#f6bd4c" filter="url(#b2)" opacity="1.00"/>
<ellipse cx="143.30" cy="326.30" rx="5.00" ry="5.00" transform="rotate(0.0 143.30 326.30)" fill="#fad99c" filter="url(#b2)" opacity="1.00"/>
<defs><linearGradient id="g9" gradientUnits="userSpaceOnUse" x1="126.00" y1="0.00" x2="140.00" y2="0.00"><stop offset="0.000" stop-color="#d4c6e8"/><stop offset="1.000" stop-color="#a68ccc"/></linearGradient></defs>
<path d="M124.50,352.00 C124.83,349.75 127.08,349.83 129.00,348.50 C130.92,347.17 133.50,345.67 136.00,344.00 C138.50,342.33 141.50,340.25 144.00,338.50 C146.50,336.75 148.75,334.83 151.00,333.50 C153.25,332.17 155.87,330.58 157.50,330.50 C159.13,330.42 160.28,331.08 160.80,333.00 C161.32,334.92 161.07,339.08 160.60,342.00 C160.13,344.92 159.43,347.83 158.00,350.50 C156.57,353.17 154.00,355.83 152.00,358.00 C150.00,360.17 148.17,362.12 146.00,363.50 C143.83,364.88 141.33,365.88 139.00,366.30 C136.67,366.72 134.00,366.72 132.00,366.00 C130.00,365.28 128.25,364.33 127.00,362.00 C125.75,359.67 124.17,354.25 124.50,352.00 Z" fill="url(#g9)" filter="url(#b3)" opacity="1.00"/>
<path d="M130.50,361.00 C131.83,360.67 136.00,360.08 138.50,359.00 C141.00,357.92 143.33,356.33 145.50,354.50 C147.67,352.67 149.75,350.33 151.50,348.00 C153.25,345.67 154.92,342.83 156.00,340.50 C157.08,338.17 157.67,335.08 158.00,334.00" fill="none" stroke="#5e1288" stroke-width="12.50" stroke-linecap="round" stroke-linejoin="round" filter="url(#b2)" opacity="1.00"/>
<path d="M139.00,361.50 C139.83,360.83 142.50,358.92 144.00,357.50 C145.50,356.08 147.33,353.75 148.00,353.00" fill="none" stroke="#ffffff" stroke-width="1.00" opacity="1.00"/>
<ellipse cx="146.00" cy="356.80" rx="3.50" ry="1.40" transform="rotate(-40.0 146.00 356.80)" fill="none" stroke="#ffffff" stroke-width="0.70" opacity="1.00"/>
<path d="M156.50,337.00 L155.00,343.00" fill="none" stroke="#d0b0e8" stroke-width="0.80" opacity="1.00"/>
<path d="M113.50,377.50 C113.75,376.67 115.42,376.08 117.00,376.50 C118.58,376.92 120.83,379.12 123.00,380.00 C125.17,380.88 127.50,381.58 130.00,381.80 C132.50,382.02 135.33,381.80 138.00,381.30 C140.67,380.80 143.67,380.02 146.00,378.80 C148.33,377.58 150.25,375.97 152.00,374.00 C153.75,372.03 155.25,368.92 156.50,367.00 C157.75,365.08 158.72,362.83 159.50,362.50 C160.28,362.17 161.03,363.50 161.20,365.00 C161.37,366.50 161.12,369.42 160.50,371.50 C159.88,373.58 159.00,375.50 157.50,377.50 C156.00,379.50 153.58,381.92 151.50,383.50 C149.42,385.08 147.58,386.17 145.00,387.00 C142.42,387.83 139.00,388.33 136.00,388.50 C133.00,388.67 129.58,388.50 127.00,388.00 C124.42,387.50 122.42,386.58 120.50,385.50 C118.58,384.42 116.67,382.83 115.50,381.50 C114.33,380.17 113.25,378.33 113.50,377.50 Z" fill="#fbdca2" stroke="#fbdca2" stroke-width="1.50" stroke-linejoin="round" filter="url(#b3)" opacity="0.85"/>
<defs><linearGradient id="g10" gradientUnits="userSpaceOnUse" x1="115.00" y1="0.00" x2="135.00" y2="0.00"><stop offset="0.000" stop-color="#f9d890"/><stop offset="0.600" stop-color="#f6b838"/><stop offset="1.000" stop-color="#f7aa10"/></linearGradient></defs>
<path d="M113.50,377.50 C113.75,376.67 115.42,376.08 117.00,376.50 C118.58,376.92 120.83,379.12 123.00,380.00 C125.17,380.88 127.50,381.58 130.00,381.80 C132.50,382.02 135.33,381.80 138.00,381.30 C140.67,380.80 143.67,380.02 146.00,378.80 C148.33,377.58 150.25,375.97 152.00,374.00 C153.75,372.03 155.25,368.92 156.50,367.00 C157.75,365.08 158.72,362.83 159.50,362.50 C160.28,362.17 161.03,363.50 161.20,365.00 C161.37,366.50 161.12,369.42 160.50,371.50 C159.88,373.58 159.00,375.50 157.50,377.50 C156.00,379.50 153.58,381.92 151.50,383.50 C149.42,385.08 147.58,386.17 145.00,387.00 C142.42,387.83 139.00,388.33 136.00,388.50 C133.00,388.67 129.58,388.50 127.00,388.00 C124.42,387.50 122.42,386.58 120.50,385.50 C118.58,384.42 116.67,382.83 115.50,381.50 C114.33,380.17 113.25,378.33 113.50,377.50 Z" fill="url(#g10)" filter="url(#b2)" opacity="1.00"/>
<path d="M117.00,380.00 C118.33,380.67 122.17,383.08 125.00,384.00 C127.83,384.92 132.50,385.25 134.00,385.50" fill="none" stroke="#ffffff" stroke-width="0.50" opacity="1.00"/>
<ellipse cx="101.00" cy="376.50" rx="1.50" ry="2.50" transform="rotate(0.0 101.00 376.50)" fill="none" stroke="#cdc2da" stroke-width="0.50" opacity="1.00"/>
</g>
<g clip-path="url(#c2)">
<path d="M200.00,130.00 C200.83,141.67 203.33,178.33 205.00,200.00 C206.67,221.67 207.83,243.33 210.00,260.00 C212.17,276.67 216.67,293.33 218.00,300.00" fill="none" stroke="#e9e7ed" stroke-width="0.50" opacity="1.00"/>
<path d="M225.00,60.00 C225.50,75.00 226.83,120.00 228.00,150.00 C229.17,180.00 230.33,217.50 232.00,240.00 C233.67,262.50 237.00,277.50 238.00,285.00" fill="none" stroke="#e9e7ed" stroke-width="0.50" opacity="1.00"/>
<path d="M240.00,40.00 C240.33,56.67 241.17,106.67 242.00,140.00 C242.83,173.33 244.50,223.33 245.00,240.00" fill="none" stroke="#e9e7ed" stroke-width="0.50" opacity="1.00"/>
<path d="M192.00,140.00 C192.33,155.00 193.00,198.33 194.00,230.00 C195.00,261.67 196.17,306.67 198.00,330.00 C199.83,353.33 203.83,363.33 205.00,370.00" fill="none" stroke="#e9e7ed" stroke-width="0.50" opacity="1.00"/>
<path d="M188.00,21.00 C188.83,20.08 191.00,16.92 193.00,15.50 C195.00,14.08 197.50,13.17 200.00,12.50 C202.50,11.83 206.67,11.67 208.00,11.50" fill="none" stroke="#fbe2b4" stroke-width="5.00" stroke-linecap="round" stroke-linejoin="round" filter="url(#b2)" opacity="1.00"/>
<path d="M189.00,19.00 C189.83,18.25 192.00,15.67 194.00,14.50 C196.00,13.33 199.83,12.42 201.00,12.00" fill="none" stroke="#ffffff" stroke-width="0.50" opacity="1.00"/>
<ellipse cx="192.60" cy="59.30" rx="4.80" ry="9.00" transform="rotate(40.0 192.60 59.30)" fill="#d6bfe8" filter="url(#b3)" opacity="0.85"/>
<defs><linearGradient id="g11" x1="0" y1="0" x2="0" y2="1"><stop offset="0.000" stop-color="#c8b4e0"/><stop offset="0.500" stop-color="#7e58a8"/><stop offset="1.000" stop-color="#7e58a8"/></linearGradient></defs>
<ellipse cx="192.60" cy="59.30" rx="3.60" ry="7.80" transform="rotate(40.0 192.60 59.30)" fill="url(#g11)" filter="url(#b2)" opacity="1.00"/>
<ellipse cx="191.80" cy="60.20" rx="0.80" ry="2.40" transform="rotate(38.0 191.80 60.20)" fill="none" stroke="#ffffff" stroke-width="0.60" opacity="1.00"/>
<ellipse cx="208.50" cy="72.50" rx="9.50" ry="6.50" transform="rotate(-10.0 208.50 72.50)" fill="#fcecd0" filter="url(#b2)" opacity="1.00"/>
<ellipse cx="192.30" cy="80.60" rx="7.20" ry="12.60" transform="rotate(30.0 192.30 80.60)" fill="#fbdca2" filter="url(#b3)" opacity="0.85"/>
<defs><linearGradient id="g12" x1="0" y1="0" x2="0" y2="1"><stop offset="0.000" stop-color="#f8c868"/><stop offset="0.400" stop-color="#f7aa10"/><stop offset="1.000" stop-color="#f7aa10"/></linearGradient></defs>
<ellipse cx="192.30" cy="80.60" rx="5.80" ry="11.20" transform="rotate(30.0 192.30 80.60)" fill="url(#g12)" filter="url(#b2)" opacity="1.00"/>
<ellipse cx="195.40" cy="99.60" rx="6.40" ry="12.90" transform="rotate(44.0 195.40 99.60)" fill="#d6bfe8" filter="url(#b3)" opacity="0.85"/>
<defs><linearGradient id="g13" x1="0" y1="0" x2="0" y2="1"><stop offset="0.000" stop-color="#b8a0d8"/><stop offset="0.550" stop-color="#5e1288"/><stop offset="1.000" stop-color="#5e1288"/></linearGradient></defs>
<ellipse cx="195.40" cy="99.60" rx="5.00" ry="11.50" transform="rotate(44.0 195.40 99.60)" fill="url(#g13)" filter="url(#b2)" opacity="1.00"/>
<ellipse cx="201.50" cy="112.00" rx="4.50" ry="3.80" transform="rotate(0.0 201.50 112.00)" fill="#fcecd0" filter="url(#b2)" opacity="1.00"/>
<ellipse cx="192.00" cy="120.50" rx="6.60" ry="10.90" transform="rotate(18.0 192.00 120.50)" fill="#fbdca2" filter="url(#b3)" opacity="0.85"/>
<defs><linearGradient id="g14" x1="0" y1="0" x2="0" y2="1"><stop offset="0.000" stop-color="#f9d58a"/><stop offset="0.450" stop-color="#f5b23a"/><stop offset="1.000" stop-color="#f5b23a"/></linearGradient></defs>
<ellipse cx="192.00" cy="120.50" rx="5.20" ry="9.50" transform="rotate(18.0 192.00 120.50)" fill="url(#g14)" filter="url(#b2)" opacity="1.00"/>
<ellipse cx="228.30" cy="308.00" rx="8.70" ry="9.80" transform="rotate(0.0 228.30 308.00)" fill="#fbdca2" filter="url(#b3)" opacity="0.85"/>
<ellipse cx="228.30" cy="308.00" rx="7.20" ry="8.30" transform="rotate(0.0 228.30 308.00)" fill="#f5b640" filter="url(#b2)" opacity="1.00"/>
<ellipse cx="228.30" cy="308.00" rx="2.50" ry="2.50" transform="rotate(0.0 228.30 308.00)" fill="none" stroke="#fde6b0" stroke-width="0.60" opacity="1.00"/>
<ellipse cx="243.50" cy="295.50" rx="6.30" ry="10.00" transform="rotate(25.0 243.50 295.50)" fill="#fbdca2" filter="url(#b3)" opacity="0.85"/>
<ellipse cx="243.50" cy="295.50" rx="4.80" ry="8.50" transform="rotate(25.0 243.50 295.50)" fill="#f7aa10" filter="url(#b2)" opacity="1.00"/>
<ellipse cx="236.40" cy="301.00" rx="3.00" ry="3.00" transform="rotate(0.0 236.40 301.00)" fill="#f6c050" filter="url(#b2)" opacity="1.00"/>
<ellipse cx="228.00" cy="350.00" rx="6.00" ry="3.50" transform="rotate(0.0 228.00 350.00)" fill="#fcecd0" filter="url(#b2)" opacity="1.00"/>
<path d="M223.50,334.50 C224.42,334.38 227.08,334.38 229.00,333.80 C230.92,333.22 233.17,332.05 235.00,331.00 C236.83,329.95 238.50,329.00 240.00,327.50 C241.50,326.00 242.92,324.25 244.00,322.00 C245.08,319.75 246.08,315.33 246.50,314.00" fill="none" stroke="#d6bfe8" stroke-width="11.00" stroke-linecap="round" stroke-linejoin="round" filter="url(#b3)" opacity="0.85"/>
<defs><linearGradient id="g15" gradientUnits="userSpaceOnUse" x1="222.00" y1="0.00" x2="234.00" y2="0.00"><stop offset="0.000" stop-color="#b49ad6"/><stop offset="1.000" stop-color="#5e1288"/></linearGradient></defs>
<path d="M223.50,334.50 C224.42,334.38 227.08,334.38 229.00,333.80 C230.92,333.22 233.17,332.05 235.00,331.00 C236.83,329.95 238.50,329.00 240.00,327.50 C241.50,326.00 242.92,324.25 244.00,322.00 C245.08,319.75 246.08,315.33 246.50,314.00" fill="none" stroke="url(#g15)" stroke-width="8.50" stroke-linecap="round" stroke-linejoin="round" filter="url(#b2)" opacity="1.00"/>
<path d="M235.50,346.00 C235.83,343.83 236.92,340.08 238.00,338.00 C239.08,335.92 240.58,334.67 242.00,333.50 C243.42,332.33 245.25,331.25 246.50,331.00 C247.75,330.75 248.83,330.50 249.50,332.00 C250.17,333.50 250.58,337.33 250.50,340.00 C250.42,342.67 249.83,345.92 249.00,348.00 C248.17,350.08 247.08,351.67 245.50,352.50 C243.92,353.33 241.08,353.25 239.50,353.00 C237.92,352.75 236.67,352.17 236.00,351.00 C235.33,349.83 235.17,348.17 235.50,346.00 Z" fill="#fbdca2" stroke="#fbdca2" stroke-width="2.00" stroke-linejoin="round" filter="url(#b3)" opacity="0.85"/>
<path d="M235.50,346.00 C235.83,343.83 236.92,340.08 238.00,338.00 C239.08,335.92 240.58,334.67 242.00,333.50 C243.42,332.33 245.25,331.25 246.50,331.00 C247.75,330.75 248.83,330.50 249.50,332.00 C250.17,333.50 250.58,337.33 250.50,340.00 C250.42,342.67 249.83,345.92 249.00,348.00 C248.17,350.08 247.08,351.67 245.50,352.50 C243.92,353.33 241.08,353.25 239.50,353.00 C237.92,352.75 236.67,352.17 236.00,351.00 C235.33,349.83 235.17,348.17 235.50,346.00 Z" fill="#f7aa10" filter="url(#b2)" opacity="1.00"/>
<path d="M209.00,376.50 C210.17,377.33 213.17,380.17 216.00,381.50 C218.83,382.83 222.67,384.08 226.00,384.50 C229.33,384.92 233.17,384.67 236.00,384.00 C238.83,383.33 241.00,381.83 243.00,380.50 C245.00,379.17 247.17,376.75 248.00,376.00" fill="none" stroke="#fbdca2" stroke-width="8.20" stroke-linecap="round" stroke-linejoin="round" filter="url(#b3)" opacity="0.85"/>
<path d="M209.00,376.50 C210.17,377.33 213.17,380.17 216.00,381.50 C218.83,382.83 222.67,384.08 226.00,384.50 C229.33,384.92 233.17,384.67 236.00,384.00 C238.83,383.33 241.00,381.83 243.00,380.50 C245.00,379.17 247.17,376.75 248.00,376.00" fill="none" stroke="#f5ae2c" stroke-width="6.20" stroke-linecap="round" stroke-linejoin="round" filter="url(#b2)" opacity="1.00"/>
<path d="M215.00,381.00 C216.83,381.47 222.50,383.42 226.00,383.80 C229.50,384.18 234.33,383.38 236.00,383.30" fill="none" stroke="#fce7b8" stroke-width="0.50" opacity="1.00"/>
</g>
<g clip-path="url(#c3)">
<path d="M300.00,70.00 C300.83,80.00 303.33,108.33 305.00,130.00 C306.67,151.67 308.33,178.33 310.00,200.00 C311.67,221.67 314.17,250.00 315.00,260.00" fill="none" stroke="#e9e7ed" stroke-width="0.50" opacity="1.00"/>
<path d="M290.00,125.00 C290.50,135.83 291.67,167.50 293.00,190.00 C294.33,212.50 296.00,241.67 298.00,260.00 C300.00,278.33 303.83,293.33 305.00,300.00" fill="none" stroke="#e9e7ed" stroke-width="0.50" opacity="1.00"/>
<path d="M322.00,40.00 C322.33,53.33 323.33,93.33 324.00,120.00 C324.67,146.67 325.33,178.33 326.00,200.00 C326.67,221.67 327.67,241.67 328.00,250.00" fill="none" stroke="#e9e7ed" stroke-width="0.50" opacity="1.00"/>
<path d="M280.00,160.00 C280.33,173.33 281.33,213.33 282.00,240.00 C282.67,266.67 283.67,306.67 284.00,320.00" fill="none" stroke="#e9e7ed" stroke-width="0.50" opacity="1.00"/>
<ellipse cx="280.50" cy="12.70" rx="5.50" ry="3.00" transform="rotate(-20.0 280.50 12.70)" fill="none" stroke="#cdc2da" stroke-width="0.50" opacity="1.00"/>
<ellipse cx="280.50" cy="12.70" rx="2.50" ry="1.20" transform="rotate(-20.0 280.50 12.70)" fill="none" stroke="#cdc2da" stroke-width="0.50" opacity="1.00"/>
<ellipse cx="293.00" cy="33.00" rx="5.50" ry="3.00" transform="rotate(0.0 293.00 33.00)" fill="none" stroke="#cdc2da" stroke-width="0.50" opacity="1.00"/>
<ellipse cx="334.00" cy="23.50" rx="2.30" ry="8.00" transform="rotate(0.0 334.00 23.50)" fill="none" stroke="#cdc2da" stroke-width="0.50" opacity="1.00"/>
<ellipse cx="334.00" cy="23.50" rx="1.00" ry="5.00" transform="rotate(0.0 334.00 23.50)" fill="none" stroke="#cdc2da" stroke-width="0.50" opacity="1.00"/>
<ellipse cx="292.00" cy="60.00" rx="1.50" ry="2.50" transform="rotate(35.0 292.00 60.00)" fill="none" stroke="#cbc0d8" stroke-width="0.50" opacity="0.85"/>
<ellipse cx="292.90" cy="58.30" rx="3.00" ry="4.60" transform="rotate(35.0 292.90 58.30)" fill="none" stroke="#cbc0d8" stroke-width="0.50" opacity="0.85"/>
<ellipse cx="293.80" cy="56.60" rx="4.50" ry="6.70" transform="rotate(35.0 293.80 56.60)" fill="none" stroke="#cbc0d8" stroke-width="0.50" opacity="0.85"/>
<ellipse cx="294.70" cy="54.90" rx="6.00" ry="8.80" transform="rotate(35.0 294.70 54.90)" fill="none" stroke="#cbc0d8" stroke-width="0.50" opacity="0.85"/>
<ellipse cx="295.60" cy="53.20" rx="7.50" ry="10.90" transform="rotate(35.0 295.60 53.20)" fill="none" stroke="#cbc0d8" stroke-width="0.50" opacity="0.85"/>
<ellipse cx="296.50" cy="51.50" rx="9.00" ry="13.00" transform="rotate(35.0 296.50 51.50)" fill="none" stroke="#cbc0d8" stroke-width="0.50" opacity="0.85"/>
<ellipse cx="281.20" cy="70.30" rx="7.00" ry="13.70" transform="rotate(32.0 281.20 70.30)" fill="#d6bfe8" filter="url(#b3)" opacity="0.85"/>
<defs><linearGradient id="g16" x1="0" y1="0" x2="0" y2="1"><stop offset="0.000" stop-color="#d0c0e6"/><stop offset="0.500" stop-color="#5e1288"/><stop offset="1.000" stop-color="#5e1288"/></linearGradient></defs>
<ellipse cx="281.20" cy="70.30" rx="5.80" ry="12.50" transform="rotate(32.0 281.20 70.30)" fill="url(#g16)" filter="url(#b2)" opacity="1.00"/>
<ellipse cx="280.20" cy="90.30" rx="6.00" ry="9.20" transform="rotate(32.0 280.20 90.30)" fill="#fbdca2" filter="url(#b3)" opacity="0.85"/>
<ellipse cx="280.20" cy="90.30" rx="4.40" ry="7.60" transform="rotate(32.0 280.20 90.30)" fill="#f7aa10" filter="url(#b2)" opacity="1.00"/>
<ellipse cx="283.50" cy="107.00" rx="7.40" ry="15.20" transform="rotate(45.0 283.50 107.00)" fill="#d6bfe8" filter="url(#b3)" opacity="0.85"/>
<defs><linearGradient id="g17" x1="0" y1="0" x2="0" y2="1"><stop offset="0.000" stop-color="#d0c0e6"/><stop offset="0.500" stop-color="#5e1288"/><stop offset="1.000" stop-color="#5e1288"/></linearGradient></defs>
<ellipse cx="283.50" cy="107.00" rx="6.20" ry="14.00" transform="rotate(45.0 283.50 107.00)" fill="url(#g17)" filter="url(#b2)" opacity="1.00"/>
<ellipse cx="332.50" cy="85.00" rx="3.50" ry="9.50" transform="rotate(0.0 332.50 85.00)" fill="none" stroke="#cdc2da" stroke-width="0.50" opacity="1.00"/>
<ellipse cx="332.50" cy="85.00" rx="1.50" ry="6.00" transform="rotate(0.0 332.50 85.00)" fill="none" stroke="#cdc2da" stroke-width="0.50" opacity="1.00"/>
<ellipse cx="290.70" cy="142.50" rx="3.50" ry="4.00" transform="rotate(0.0 290.70 142.50)" fill="none" stroke="#cdc2da" stroke-width="0.50" opacity="1.00"/>
<ellipse cx="278.00" cy="150.00" rx="3.80" ry="4.50" transform="rotate(0.0 278.00 150.00)" fill="#d0c2e2" filter="url(#b2)" opacity="1.00"/>
<ellipse cx="332.00" cy="262.50" rx="3.20" ry="7.50" transform="rotate(15.0 332.00 262.50)" fill="#e4dcee" filter="url(#b2)" opacity="1.00"/>
<ellipse cx="320.50" cy="274.00" rx="2.50" ry="2.50" transform="rotate(0.0 320.50 274.00)" fill="none" stroke="#cdc2da" stroke-width="0.50" opacity="1.00"/>
<path d="M307.00,324.80 C307.87,325.93 310.87,327.38 312.70,327.80 C314.53,328.22 316.23,327.80 318.00,327.30 C319.77,326.80 321.63,325.68 323.30,324.80 C324.97,323.92 326.67,323.05 328.00,322.00 C329.33,320.95 330.23,319.80 331.30,318.50 C332.37,317.20 333.62,315.57 334.40,314.20 C335.18,312.83 335.62,311.83 336.00,310.30 C336.38,308.77 336.62,306.55 336.70,305.00 C336.78,303.45 336.65,302.28 336.50,301.00 C336.35,299.72 336.13,298.33 335.80,297.30 C335.47,296.27 335.03,295.15 334.50,294.80 C333.97,294.45 333.15,294.78 332.60,295.20 C332.05,295.62 331.63,296.28 331.20,297.30 C330.77,298.32 330.38,299.80 330.00,301.30 C329.62,302.80 329.43,304.78 328.90,306.30 C328.37,307.82 327.70,309.25 326.80,310.40 C325.90,311.55 324.68,312.48 323.50,313.20 C322.32,313.92 320.95,314.33 319.70,314.70 C318.45,315.07 317.18,315.07 316.00,315.40 C314.82,315.73 313.65,316.17 312.60,316.70 C311.55,317.23 310.55,317.88 309.70,318.60 C308.85,319.32 307.95,319.97 307.50,321.00 C307.05,322.03 306.13,323.67 307.00,324.80 Z" fill="#d6bfe8" stroke="#d6bfe8" stroke-width="2.00" stroke-linejoin="round" filter="url(#b3)" opacity="0.85"/>
<path d="M307.00,324.80 C307.87,325.93 310.87,327.38 312.70,327.80 C314.53,328.22 316.23,327.80 318.00,327.30 C319.77,326.80 321.63,325.68 323.30,324.80 C324.97,323.92 326.67,323.05 328.00,322.00 C329.33,320.95 330.23,319.80 331.30,318.50 C332.37,317.20 333.62,315.57 334.40,314.20 C335.18,312.83 335.62,311.83 336.00,310.30 C336.38,308.77 336.62,306.55 336.70,305.00 C336.78,303.45 336.65,302.28 336.50,301.00 C336.35,299.72 336.13,298.33 335.80,297.30 C335.47,296.27 335.03,295.15 334.50,294.80 C333.97,294.45 333.15,294.78 332.60,295.20 C332.05,295.62 331.63,296.28 331.20,297.30 C330.77,298.32 330.38,299.80 330.00,301.30 C329.62,302.80 329.43,304.78 328.90,306.30 C328.37,307.82 327.70,309.25 326.80,310.40 C325.90,311.55 324.68,312.48 323.50,313.20 C322.32,313.92 320.95,314.33 319.70,314.70 C318.45,315.07 317.18,315.07 316.00,315.40 C314.82,315.73 313.65,316.17 312.60,316.70 C311.55,317.23 310.55,317.88 309.70,318.60 C308.85,319.32 307.95,319.97 307.50,321.00 C307.05,322.03 306.13,323.67 307.00,324.80 Z" fill="#5e1288" filter="url(#b2)" opacity="1.00"/>
<ellipse cx="321.00" cy="320.50" rx="5.00" ry="1.80" transform="rotate(-15.0 321.00 320.50)" fill="none" stroke="#ffffff" stroke-width="0.80" opacity="1.00"/>
<ellipse cx="328.00" cy="333.50" rx="7.20" ry="12.20" transform="rotate(45.0 328.00 333.50)" fill="#fbdca2" filter="url(#b3)" opacity="0.85"/>
<ellipse cx="328.00" cy="333.50" rx="5.80" ry="10.80" transform="rotate(45.0 328.00 333.50)" fill="#f7aa10" filter="url(#b2)" opacity="1.00"/>
<ellipse cx="286.00" cy="343.50" rx="3.50" ry="5.00" transform="rotate(0.0 286.00 343.50)" fill="none" stroke="#c0b2d2" stroke-width="0.60" opacity="1.00"/>
<ellipse cx="286.00" cy="343.50" rx="1.50" ry="2.50" transform="rotate(0.0 286.00 343.50)" fill="none" stroke="#c0b2d2" stroke-width="0.50" opacity="1.00"/>
<path d="M287.00,343.00 C288.00,343.50 290.83,344.50 293.00,346.00 C295.17,347.50 297.50,349.83 300.00,352.00 C302.50,354.17 305.33,357.33 308.00,359.00 C310.67,360.67 313.17,361.67 316.00,362.00 C318.83,362.33 323.50,361.17 325.00,361.00" fill="none" stroke="#e4dcee" stroke-width="8.00" stroke-linecap="round" stroke-linejoin="round" filter="url(#b2)" opacity="1.00"/>
<path d="M306.00,359.00 C307.67,359.58 313.00,362.17 316.00,362.50 C319.00,362.83 322.67,361.25 324.00,361.00" fill="none" stroke="#c4b4de" stroke-width="6.00" stroke-linecap="round" stroke-linejoin="round" filter="url(#b2)" opacity="1.00"/>
<ellipse cx="315.00" cy="362.50" rx="3.50" ry="1.60" transform="rotate(0.0 315.00 362.50)" fill="none" stroke="#ffffff" stroke-width="0.70" opacity="1.00"/>
<path d="M321.50,362.50 C322.42,361.92 325.33,360.42 327.00,359.00 C328.67,357.58 330.25,355.75 331.50,354.00 C332.75,352.25 333.75,350.17 334.50,348.50 C335.25,346.83 335.75,344.75 336.00,344.00" fill="none" stroke="#d6bfe8" stroke-width="10.50" stroke-linecap="round" stroke-linejoin="round" filter="url(#b3)" opacity="0.85"/>
<defs><linearGradient id="g18" gradientUnits="userSpaceOnUse" x1="0.00" y1="362.00" x2="0.00" y2="350.00"><stop offset="0.000" stop-color="#6a40a0"/><stop offset="1.000" stop-color="#5e1288"/></linearGradient></defs>
<path d="M321.50,362.50 C322.42,361.92 325.33,360.42 327.00,359.00 C328.67,357.58 330.25,355.75 331.50,354.00 C332.75,352.25 333.75,350.17 334.50,348.50 C335.25,346.83 335.75,344.75 336.00,344.00" fill="none" stroke="url(#g18)" stroke-width="8.00" stroke-linecap="round" stroke-linejoin="round" filter="url(#b2)" opacity="1.00"/>
<path d="M288.00,379.50 C289.00,380.25 291.83,382.67 294.00,384.00 C296.17,385.33 298.33,386.58 301.00,387.50 C303.67,388.42 307.17,389.08 310.00,389.50 C312.83,389.92 314.83,390.25 318.00,390.00 C321.17,389.75 326.08,389.08 329.00,388.00 C331.92,386.92 334.42,384.25 335.50,383.50" fill="none" stroke="#e6def0" stroke-width="9.00" stroke-linecap="round" stroke-linejoin="round" filter="url(#b3)" opacity="0.85"/>
<defs><linearGradient id="g19" gradientUnits="userSpaceOnUse" x1="290.00" y1="0.00" x2="322.00" y2="0.00"><stop offset="0.000" stop-color="#d0bee6"/><stop offset="0.500" stop-color="#8a68b4"/><stop offset="1.000" stop-color="#5e1288"/></linearGradient></defs>
<path d="M288.00,379.50 C289.00,380.25 291.83,382.67 294.00,384.00 C296.17,385.33 298.33,386.58 301.00,387.50 C303.67,388.42 307.17,389.08 310.00,389.50 C312.83,389.92 314.83,390.25 318.00,390.00 C321.17,389.75 326.08,389.08 329.00,388.00 C331.92,386.92 334.42,384.25 335.50,383.50" fill="none" stroke="url(#g19)" stroke-width="7.00" stroke-linecap="round" stroke-linejoin="round" filter="url(#b2)" opacity="1.00"/>
<path d="M291.00,382.00 C292.50,382.83 296.50,385.75 300.00,387.00 C303.50,388.25 310.00,389.08 312.00,389.50" fill="none" stroke="#ffffff" stroke-width="0.70" opacity="1.00"/>
<ellipse cx="323.50" cy="378.50" rx="5.50" ry="2.80" transform="rotate(0.0 323.50 378.50)" fill="#fcecd0" filter="url(#b2)" opacity="1.00"/>
</g>
<g clip-path="url(#c4)">
<path d="M380.00,60.00 C380.83,71.67 383.00,106.67 385.00,130.00 C387.00,153.33 389.83,175.00 392.00,200.00 C394.17,225.00 397.00,266.67 398.00,280.00" fill="none" stroke="#e9e7ed" stroke-width="0.50" opacity="1.00"/>
<path d="M372.00,175.00 C372.50,187.50 372.83,225.83 375.00,250.00 C377.17,274.17 381.67,304.17 385.00,320.00 C388.33,335.83 393.33,340.83 395.00,345.00" fill="none" stroke="#e9e7ed" stroke-width="0.50" opacity="1.00"/>
<path d="M400.00,20.00 C400.83,36.67 403.33,90.00 405.00,120.00 C406.67,150.00 408.50,176.67 410.00,200.00 C411.50,223.33 413.33,250.00 414.00,260.00" fill="none" stroke="#e9e7ed" stroke-width="0.50" opacity="1.00"/>
<path d="M415.00,30.00 C415.50,50.00 417.17,113.33 418.00,150.00 C418.83,186.67 419.67,233.33 420.00,250.00" fill="none" stroke="#e9e7ed" stroke-width="0.50" opacity="1.00"/>
<path d="M365.00,17.00 C365.83,16.25 367.83,13.50 370.00,12.50 C372.17,11.50 376.67,11.25 378.00,11.00" fill="none" stroke="#fad99c" stroke-width="5.50" stroke-linecap="round" stroke-linejoin="round" filter="url(#b2)" opacity="1.00"/>
<path d="M364.40,30.80 C365.17,30.08 367.40,27.75 369.00,26.50 C370.60,25.25 372.17,24.13 374.00,23.30 C375.83,22.47 378.17,21.85 380.00,21.50 C381.83,21.15 383.33,21.03 385.00,21.20 C386.67,21.37 388.50,21.97 390.00,22.50 C391.50,23.03 393.33,24.08 394.00,24.40" fill="none" stroke="#e2d8ee" stroke-width="8.00" stroke-linecap="round" stroke-linejoin="round" filter="url(#b3)" opacity="0.85"/>
<defs><linearGradient id="g20" gradientUnits="userSpaceOnUse" x1="376.00" y1="0.00" x2="394.00" y2="0.00"><stop offset="0.000" stop-color="#5e1288"/><stop offset="1.000" stop-color="#c8b6e0"/></linearGradient></defs>
<path d="M364.40,30.80 C365.17,30.08 367.40,27.75 369.00,26.50 C370.60,25.25 372.17,24.13 374.00,23.30 C375.83,22.47 378.17,21.85 380.00,21.50 C381.83,21.15 383.33,21.03 385.00,21.20 C386.67,21.37 388.50,21.97 390.00,22.50 C391.50,23.03 393.33,24.08 394.00,24.40" fill="none" stroke="url(#g20)" stroke-width="6.00" stroke-linecap="round" stroke-linejoin="round" filter="url(#b2)" opacity="1.00"/>
<path d="M369.00,26.00 C369.83,25.50 372.17,23.78 374.00,23.00 C375.83,22.22 379.00,21.58 380.00,21.30" fill="none" stroke="#d8c0f0" stroke-width="0.60" opacity="1.00"/>
<path d="M361.50,52.00 C361.13,50.50 361.30,46.42 361.80,44.00 C362.30,41.58 363.30,39.25 364.50,37.50 C365.70,35.75 367.08,34.50 369.00,33.50 C370.92,32.50 373.50,31.83 376.00,31.50 C378.50,31.17 381.67,31.25 384.00,31.50 C386.33,31.75 388.83,32.17 390.00,33.00 C391.17,33.83 391.50,35.58 391.00,36.50 C390.50,37.42 388.83,38.17 387.00,38.50 C385.17,38.83 382.17,38.17 380.00,38.50 C377.83,38.83 375.75,39.42 374.00,40.50 C372.25,41.58 370.67,43.25 369.50,45.00 C368.33,46.75 367.92,49.67 367.00,51.00 C366.08,52.33 364.92,52.83 364.00,53.00 C363.08,53.17 361.87,53.50 361.50,52.00 Z" fill="#fbdca2" stroke="#fbdca2" stroke-width="2.00" stroke-linejoin="round" filter="url(#b3)" opacity="0.85"/>
<defs><linearGradient id="g21" gradientUnits="userSpaceOnUse" x1="372.00" y1="0.00" x2="390.00" y2="0.00"><stop offset="0.000" stop-color="#f7aa10"/><stop offset="0.500" stop-color="#f6b840"/><stop offset="1.000" stop-color="#f9d58c"/></linearGradient></defs>
<path d="M361.50,52.00 C361.13,50.50 361.30,46.42 361.80,44.00 C362.30,41.58 363.30,39.25 364.50,37.50 C365.70,35.75 367.08,34.50 369.00,33.50 C370.92,32.50 373.50,31.83 376.00,31.50 C378.50,31.17 381.67,31.25 384.00,31.50 C386.33,31.75 388.83,32.17 390.00,33.00 C391.17,33.83 391.50,35.58 391.00,36.50 C390.50,37.42 388.83,38.17 387.00,38.50 C385.17,38.83 382.17,38.17 380.00,38.50 C377.83,38.83 375.75,39.42 374.00,40.50 C372.25,41.58 370.67,43.25 369.50,45.00 C368.33,46.75 367.92,49.67 367.00,51.00 C366.08,52.33 364.92,52.83 364.00,53.00 C363.08,53.17 361.87,53.50 361.50,52.00 Z" fill="url(#g21)" filter="url(#b2)" opacity="1.00"/>
<ellipse cx="371.50" cy="61.00" rx="7.40" ry="13.70" transform="rotate(52.0 371.50 61.00)" fill="#d6bfe8" filter="url(#b3)" opacity="0.85"/>
<defs><linearGradient id="g22" x1="0" y1="0" x2="0" y2="1"><stop offset="0.000" stop-color="#d8ccea"/><stop offset="0.450" stop-color="#5e1288"/><stop offset="1.000" stop-color="#5e1288"/></linearGradient></defs>
<ellipse cx="371.50" cy="61.00" rx="6.20" ry="12.50" transform="rotate(52.0 371.50 61.00)" fill="url(#g22)" filter="url(#b2)" opacity="1.00"/>
<ellipse cx="367.50" cy="80.00" rx="4.90" ry="8.00" transform="rotate(15.0 367.50 80.00)" fill="#fde9c8" filter="url(#b3)" opacity="0.85"/>
<ellipse cx="367.50" cy="80.00" rx="3.70" ry="6.80" transform="rotate(15.0 367.50 80.00)" fill="#f9d38a" filter="url(#b2)" opacity="1.00"/>
<ellipse cx="366.50" cy="97.80" rx="4.30" ry="6.80" transform="rotate(25.0 366.50 97.80)" fill="#dcd0ea" filter="url(#b3)" opacity="0.85"/>
<ellipse cx="366.50" cy="97.80" rx="3.10" ry="5.60" transform="rotate(25.0 366.50 97.80)" fill="#8462ad" filter="url(#b2)" opacity="1.00"/>
<ellipse cx="367.50" cy="115.50" rx="5.70" ry="8.40" transform="rotate(5.0 367.50 115.50)" fill="#fbdca2" filter="url(#b3)" opacity="0.85"/>
<ellipse cx="367.50" cy="115.50" rx="4.30" ry="7.00" transform="rotate(5.0 367.50 115.50)" fill="#f7aa10" filter="url(#b2)" opacity="1.00"/>
<ellipse cx="367.50" cy="136.70" rx="6.00" ry="10.00" transform="rotate(5.0 367.50 136.70)" fill="#d6bfe8" filter="url(#b3)" opacity="0.85"/>
<ellipse cx="367.50" cy="136.70" rx="4.60" ry="8.60" transform="rotate(5.0 367.50 136.70)" fill="#5e1288" filter="url(#b2)" opacity="1.00"/>
<ellipse cx="367.00" cy="136.50" rx="0.80" ry="1.80" transform="rotate(0.0 367.00 136.50)" fill="none" stroke="#ffffff" stroke-width="0.50" opacity="1.00"/>
<ellipse cx="367.50" cy="162.00" rx="5.70" ry="10.00" transform="rotate(0.0 367.50 162.00)" fill="#fbdca2" filter="url(#b3)" opacity="0.85"/>
<ellipse cx="367.50" cy="162.00" rx="4.30" ry="8.60" transform="rotate(0.0 367.50 162.00)" fill="#f6bd4c" filter="url(#b2)" opacity="1.00"/>
<ellipse cx="419.70" cy="276.00" rx="2.50" ry="3.50" transform="rotate(0.0 419.70 276.00)" fill="none" stroke="#fad99c" stroke-width="0.80" opacity="1.00"/>
<ellipse cx="407.50" cy="288.00" rx="4.50" ry="5.50" transform="rotate(0.0 407.50 288.00)" fill="#fcecd0" filter="url(#b2)" opacity="1.00"/>
<ellipse cx="407.50" cy="288.00" rx="2.00" ry="2.00" transform="rotate(0.0 407.50 288.00)" fill="none" stroke="#fad99c" stroke-width="0.70" opacity="1.00"/>
<ellipse cx="418.60" cy="297.70" rx="5.20" ry="10.70" transform="rotate(28.0 418.60 297.70)" fill="#d6bfe8" filter="url(#b3)" opacity="0.85"/>
<ellipse cx="418.60" cy="297.70" rx="3.80" ry="9.30" transform="rotate(28.0 418.60 297.70)" fill="#5e1288" filter="url(#b2)" opacity="1.00"/>
<ellipse cx="420.00" cy="323.50" rx="5.50" ry="12.70" transform="rotate(10.0 420.00 323.50)" fill="#fbdca2" filter="url(#b3)" opacity="0.85"/>
<ellipse cx="420.00" cy="323.50" rx="4.10" ry="11.30" transform="rotate(10.0 420.00 323.50)" fill="#f6bd4c" filter="url(#b2)" opacity="1.00"/>
<ellipse cx="411.00" cy="350.00" rx="10.50" ry="3.80" transform="rotate(-25.0 411.00 350.00)" fill="#e4dcee" filter="url(#b2)" opacity="1.00"/>
<ellipse cx="410.00" cy="351.00" rx="4.00" ry="1.50" transform="rotate(-25.0 410.00 351.00)" fill="none" stroke="#c8bcd6" stroke-width="0.50" opacity="1.00"/>
<ellipse cx="416.50" cy="362.00" rx="7.00" ry="4.00" transform="rotate(-30.0 416.50 362.00)" fill="#fad99c" filter="url(#b2)" opacity="1.00"/>
<ellipse cx="405.00" cy="367.50" rx="6.00" ry="2.00" transform="rotate(0.0 405.00 367.50)" fill="#fcecd0" filter="url(#b2)" opacity="1.00"/>
<ellipse cx="417.50" cy="373.70" rx="4.00" ry="1.80" transform="rotate(-35.0 417.50 373.70)" fill="none" stroke="#c4bccc" stroke-width="0.50" opacity="1.00"/>
</g>
<g clip-path="url(#c5)">
<path d="M462.00,40.00 C463.00,53.33 465.67,93.33 468.00,120.00 C470.33,146.67 472.33,173.33 476.00,200.00 C479.67,226.67 486.50,258.33 490.00,280.00 C493.50,301.67 495.83,321.67 497.00,330.00" fill="none" stroke="#e9e7ed" stroke-width="0.50" opacity="1.00"/>
<path d="M470.00,20.00 C471.67,33.33 476.67,73.33 480.00,100.00 C483.33,126.67 486.67,160.00 490.00,180.00 C493.33,200.00 498.33,213.33 500.00,220.00" fill="none" stroke="#e9e7ed" stroke-width="0.50" opacity="1.00"/>
<path d="M458.00,190.00 C459.17,201.67 461.67,236.67 465.00,260.00 C468.33,283.33 474.67,314.17 478.00,330.00 C481.33,345.83 483.83,350.83 485.00,355.00" fill="none" stroke="#e9e7ed" stroke-width="0.50" opacity="1.00"/>
<path d="M492.00,30.00 C493.33,45.00 497.83,91.67 500.00,120.00 C502.17,148.33 504.17,186.67 505.00,200.00" fill="none" stroke="#e9e7ed" stroke-width="0.50" opacity="1.00"/>
<path d="M453.00,21.00 C454.17,20.25 457.17,17.50 460.00,16.50 C462.83,15.50 466.83,15.08 470.00,15.00 C473.17,14.92 477.50,15.83 479.00,16.00" fill="none" stroke="#fcecd0" stroke-width="5.00" stroke-linecap="round" stroke-linejoin="round" filter="url(#b2)" opacity="1.00"/>
<path d="M452.50,37.50 C453.42,36.67 456.08,34.17 458.00,32.50 C459.92,30.83 463.00,28.33 464.00,27.50" fill="none" stroke="#e4dcef" stroke-width="6.50" stroke-linecap="round" stroke-linejoin="round" filter="url(#b3)" opacity="0.85"/>
<path d="M452.50,37.50 C453.42,36.67 456.08,34.17 458.00,32.50 C459.92,30.83 463.00,28.33 464.00,27.50" fill="none" stroke="#a690cc" stroke-width="4.50" stroke-linecap="round" stroke-linejoin="round" filter="url(#b2)" opacity="1.00"/>
<path d="M453.50,36.50 C454.25,35.83 456.42,33.83 458.00,32.50 C459.58,31.17 462.17,29.17 463.00,28.50" fill="none" stroke="#ffffff" stroke-width="0.50" opacity="1.00"/>
<ellipse cx="454.20" cy="55.50" rx="4.80" ry="9.50" transform="rotate(15.0 454.20 55.50)" fill="#fde9c6" filter="url(#b3)" opacity="0.85"/>
<ellipse cx="454.20" cy="55.50" rx="3.50" ry="8.20" transform="rotate(15.0 454.20 55.50)" fill="#f7c868" filter="url(#b2)" opacity="1.00"/>
<path d="M453.50,60.00 C453.67,59.00 454.08,55.67 454.50,54.00 C454.92,52.33 455.75,50.67 456.00,50.00" fill="none" stroke="#fff4dc" stroke-width="0.50" opacity="1.00"/>
<ellipse cx="454.70" cy="75.50" rx="3.50" ry="3.50" transform="rotate(0.0 454.70 75.50)" fill="#e4dcee" filter="url(#b2)" opacity="1.00"/>
<ellipse cx="458.70" cy="86.50" rx="4.50" ry="3.00" transform="rotate(-30.0 458.70 86.50)" fill="#fad99c" filter="url(#b2)" opacity="1.00"/>
<ellipse cx="455.20" cy="112.00" rx="4.20" ry="7.70" transform="rotate(15.0 455.20 112.00)" fill="#fdecd0" filter="url(#b3)" opacity="0.85"/>
<ellipse cx="455.20" cy="112.00" rx="3.00" ry="6.50" transform="rotate(15.0 455.20 112.00)" fill="#f8cf7c" filter="url(#b2)" opacity="1.00"/>
<ellipse cx="454.50" cy="132.00" rx="3.70" ry="7.00" transform="rotate(5.0 454.50 132.00)" fill="#e4dcef" filter="url(#b3)" opacity="0.85"/>
<ellipse cx="454.50" cy="132.00" rx="2.50" ry="5.80" transform="rotate(5.0 454.50 132.00)" fill="#a892cc" filter="url(#b2)" opacity="1.00"/>
<ellipse cx="454.50" cy="154.00" rx="4.90" ry="10.30" transform="rotate(0.0 454.50 154.00)" fill="#fbdca2" filter="url(#b3)" opacity="0.85"/>
<ellipse cx="454.50" cy="154.00" rx="3.60" ry="9.00" transform="rotate(0.0 454.50 154.00)" fill="#f6c55e" filter="url(#b2)" opacity="1.00"/>
<ellipse cx="454.00" cy="182.00" rx="2.30" ry="5.50" transform="rotate(0.0 454.00 182.00)" fill="none" stroke="#d6d2dc" stroke-width="0.50" opacity="1.00"/>
<ellipse cx="508.00" cy="235.00" rx="4.20" ry="8.20" transform="rotate(0.0 508.00 235.00)" fill="#ddd2ea" filter="url(#b3)" opacity="0.85"/>
<ellipse cx="508.00" cy="235.00" rx="3.00" ry="7.00" transform="rotate(0.0 508.00 235.00)" fill="#8e70b6" filter="url(#b2)" opacity="1.00"/>
<ellipse cx="507.00" cy="257.00" rx="6.70" ry="10.70" transform="rotate(15.0 507.00 257.00)" fill="#fbdca2" filter="url(#b3)" opacity="0.85"/>
<ellipse cx="507.00" cy="257.00" rx="5.30" ry="9.30" transform="rotate(15.0 507.00 257.00)" fill="#f7aa10" filter="url(#b2)" opacity="1.00"/>
<ellipse cx="506.00" cy="279.00" rx="6.70" ry="10.00" transform="rotate(38.0 506.00 279.00)" fill="#d6bfe8" filter="url(#b3)" opacity="0.85"/>
<defs><linearGradient id="g23" x1="0" y1="0" x2="0" y2="1"><stop offset="0.000" stop-color="#9070b8"/><stop offset="0.400" stop-color="#5e1288"/><stop offset="1.000" stop-color="#5e1288"/></linearGradient></defs>
<ellipse cx="506.00" cy="279.00" rx="5.50" ry="8.80" transform="rotate(38.0 506.00 279.00)" fill="url(#g23)" filter="url(#b2)" opacity="1.00"/>
<ellipse cx="506.00" cy="297.00" rx="7.20" ry="9.70" transform="rotate(25.0 506.00 297.00)" fill="#fbdca2" filter="url(#b3)" opacity="0.85"/>
<ellipse cx="506.00" cy="297.00" rx="5.80" ry="8.30" transform="rotate(25.0 506.00 297.00)" fill="#f7aa10" filter="url(#b2)" opacity="1.00"/>
<ellipse cx="508.50" cy="311.00" rx="3.00" ry="2.00" transform="rotate(-30.0 508.50 311.00)" fill="none" stroke="#cdc2da" stroke-width="0.50" opacity="1.00"/>
<ellipse cx="503.00" cy="341.50" rx="8.00" ry="3.80" transform="rotate(-35.0 503.00 341.50)" fill="#fbe3b4" filter="url(#b2)" opacity="1.00"/>
<ellipse cx="503.00" cy="341.50" rx="3.50" ry="1.40" transform="rotate(-35.0 503.00 341.50)" fill="none" stroke="#fff6e6" stroke-width="0.60" opacity="1.00"/>
<path d="M489.00,360.00 C490.33,359.83 494.33,359.83 497.00,359.00 C499.67,358.17 502.75,356.67 505.00,355.00 C507.25,353.33 509.58,350.00 510.50,349.00" fill="none" stroke="#e0d6ec" stroke-width="6.50" stroke-linecap="round" stroke-linejoin="round" filter="url(#b3)" opacity="0.85"/>
<path d="M489.00,360.00 C490.33,359.83 494.33,359.83 497.00,359.00 C499.67,358.17 502.75,356.67 505.00,355.00 C507.25,353.33 509.58,350.00 510.50,349.00" fill="none" stroke="#9478be" stroke-width="4.50" stroke-linecap="round" stroke-linejoin="round" filter="url(#b2)" opacity="1.00"/>
<path d="M490.00,359.50 C491.17,359.33 494.50,359.33 497.00,358.50 C499.50,357.67 503.67,355.17 505.00,354.50" fill="none" stroke="#ffffff" stroke-width="0.50" opacity="1.00"/>
<path d="M482.00,366.50 C483.00,367.25 485.50,369.87 488.00,371.00 C490.50,372.13 494.17,373.17 497.00,373.30 C499.83,373.43 502.75,372.93 505.00,371.80 C507.25,370.67 509.58,367.38 510.50,366.50" fill="none" stroke="#fbdca2" stroke-width="7.00" stroke-linecap="round" stroke-linejoin="round" filter="url(#b3)" opacity="0.85"/>
<path d="M482.00,366.50 C483.00,367.25 485.50,369.87 488.00,371.00 C490.50,372.13 494.17,373.17 497.00,373.30 C499.83,373.43 502.75,372.93 505.00,371.80 C507.25,370.67 509.58,367.38 510.50,366.50" fill="none" stroke="#f4b63e" stroke-width="5.20" stroke-linecap="round" stroke-linejoin="round" filter="url(#b2)" opacity="1.00"/>
<path d="M483.00,367.50 C484.00,368.08 486.67,370.12 489.00,371.00 C491.33,371.88 494.33,372.77 497.00,372.80 C499.67,372.83 503.67,371.47 505.00,371.20" fill="none" stroke="#fff0d0" stroke-width="0.60" opacity="1.00"/>
</g>
<rect x="8.40" y="2.30" width="67.50" height="396.00" fill="none" stroke="#5e5e5e" stroke-width="0.9"/>
<line x1="5.80" y1="398.30" x2="8.40" y2="398.30" stroke="#5e5e5e" stroke-width="0.9"/>
<line x1="5.80" y1="348.80" x2="8.40" y2="348.80" stroke="#5e5e5e" stroke-width="0.9"/>
<line x1="5.80" y1="299.30" x2="8.40" y2="299.30" stroke="#5e5e5e" stroke-width="0.9"/>
<line x1="5.80" y1="249.80" x2="8.40" y2="249.80" stroke="#5e5e5e" stroke-width="0.9"/>
<line x1="5.80" y1="200.30" x2="8.40" y2="200.30" stroke="#5e5e5e" stroke-width="0.9"/>
<line x1="5.80" y1="150.80" x2="8.40" y2="150.80" stroke="#5e5e5e" stroke-width="0.9"/>
<line x1="5.80" y1="101.30" x2="8.40" y2="101.30" stroke="#5e5e5e" stroke-width="0.9"/>
<line x1="5.80" y1="51.80" x2="8.40" y2="51.80" stroke="#5e5e5e" stroke-width="0.9"/>
<line x1="5.80" y1="2.30" x2="8.40" y2="2.30" stroke="#5e5e5e" stroke-width="0.9"/>
<line x1="8.40" y1="398.30" x2="8.40" y2="400.90" stroke="#5e5e5e" stroke-width="0.9"/>
<text class="t" x="8.40" y="408.6" font-size="8.3" text-anchor="middle">0.0</text>
<line x1="42.15" y1="398.30" x2="42.15" y2="400.90" stroke="#5e5e5e" stroke-width="0.9"/>
<text class="t" x="42.15" y="408.6" font-size="8.3" text-anchor="middle">0.5</text>
<line x1="75.90" y1="398.30" x2="75.90" y2="400.90" stroke="#5e5e5e" stroke-width="0.9"/>
<text class="t" x="75.90" y="408.6" font-size="8.3" text-anchor="middle">1.0</text>
<rect x="96.20" y="2.30" width="67.50" height="396.00" fill="none" stroke="#5e5e5e" stroke-width="0.9"/>
<line x1="93.60" y1="398.30" x2="96.20" y2="398.30" stroke="#5e5e5e" stroke-width="0.9"/>
<line x1="93.60" y1="348.80" x2="96.20" y2="348.80" stroke="#5e5e5e" stroke-width="0.9"/>
<line x1="93.60" y1="299.30" x2="96.20" y2="299.30" stroke="#5e5e5e" stroke-width="0.9"/>
<line x1="93.60" y1="249.80" x2="96.20" y2="249.80" stroke="#5e5e5e" stroke-width="0.9"/>
<line x1="93.60" y1="200.30" x2="96.20" y2="200.30" stroke="#5e5e5e" stroke-width="0.9"/>
<line x1="93.60" y1="150.80" x2="96.20" y2="150.80" stroke="#5e5e5e" stroke-width="0.9"/>
<line x1="93.60" y1="101.30" x2="96.20" y2="101.30" stroke="#5e5e5e" stroke-width="0.9"/>
<line x1="93.60" y1="51.80" x2="96.20" y2="51.80" stroke="#5e5e5e" stroke-width="0.9"/>
<line x1="93.60" y1="2.30" x2="96.20" y2="2.30" stroke="#5e5e5e" stroke-width="0.9"/>
<line x1="96.20" y1="398.30" x2="96.20" y2="400.90" stroke="#5e5e5e" stroke-width="0.9"/>
<text class="t" x="96.20" y="408.6" font-size="8.3" text-anchor="middle">0.0</text>
<line x1="129.95" y1="398.30" x2="129.95" y2="400.90" stroke="#5e5e5e" stroke-width="0.9"/>
<text class="t" x="129.95" y="408.6" font-size="8.3" text-anchor="middle">0.5</text>
<line x1="163.70" y1="398.30" x2="163.70" y2="400.90" stroke="#5e5e5e" stroke-width="0.9"/>
<text class="t" x="163.70" y="408.6" font-size="8.3" text-anchor="middle">1.0</text>
<rect x="184.00" y="2.30" width="67.50" height="396.00" fill="none" stroke="#5e5e5e" stroke-width="0.9"/>
<line x1="181.40" y1="398.30" x2="184.00" y2="398.30" stroke="#5e5e5e" stroke-width="0.9"/>
<line x1="181.40" y1="348.80" x2="184.00" y2="348.80" stroke="#5e5e5e" stroke-width="0.9"/>
<line x1="181.40" y1="299.30" x2="184.00" y2="299.30" stroke="#5e5e5e" stroke-width="0.9"/>
<line x1="181.40" y1="249.80" x2="184.00" y2="249.80" stroke="#5e5e5e" stroke-width="0.9"/>
<line x1="181.40" y1="200.30" x2="184.00" y2="200.30" stroke="#5e5e5e" stroke-width="0.9"/>
<line x1="181.40" y1="150.80" x2="184.00" y2="150.80" stroke="#5e5e5e" stroke-width="0.9"/>
<line x1="181.40" y1="101.30" x2="184.00" y2="101.30" stroke="#5e5e5e" stroke-width="0.9"/>
<line x1="181.40" y1="51.80" x2="184.00" y2="51.80" stroke="#5e5e5e" stroke-width="0.9"/>
<line x1="181.40" y1="2.30" x2="184.00" y2="2.30" stroke="#5e5e5e" stroke-width="0.9"/>
<line x1="184.00" y1="398.30" x2="184.00" y2="400.90" stroke="#5e5e5e" stroke-width="0.9"/>
<text class="t" x="184.00" y="408.6" font-size="8.3" text-anchor="middle">0.0</text>
<line x1="217.75" y1="398.30" x2="217.75" y2="400.90" stroke="#5e5e5e" stroke-width="0.9"/>
<text class="t" x="217.75" y="408.6" font-size="8.3" text-anchor="middle">0.5</text>
<line x1="251.50" y1="398.30" x2="251.50" y2="400.90" stroke="#5e5e5e" stroke-width="0.9"/>
<text class="t" x="251.50" y="408.6" font-size="8.3" text-anchor="middle">1.0</text>
<rect x="271.80" y="2.30" width="67.50" height="396.00" fill="none" stroke="#5e5e5e" stroke-width="0.9"/>
<line x1="269.20" y1="398.30" x2="271.80" y2="398.30" stroke="#5e5e5e" stroke-width="0.9"/>
<line x1="269.20" y1="348.80" x2="271.80" y2="348.80" stroke="#5e5e5e" stroke-width="0.9"/>
<line x1="269.20" y1="299.30" x2="271.80" y2="299.30" stroke="#5e5e5e" stroke-width="0.9"/>
<line x1="269.20" y1="249.80" x2="271.80" y2="249.80" stroke="#5e5e5e" stroke-width="0.9"/>
<line x1="269.20" y1="200.30" x2="271.80" y2="200.30" stroke="#5e5e5e" stroke-width="0.9"/>
<line x1="269.20" y1="150.80" x2="271.80" y2="150.80" stroke="#5e5e5e" stroke-width="0.9"/>
<line x1="269.20" y1="101.30" x2="271.80" y2="101.30" stroke="#5e5e5e" stroke-width="0.9"/>
<line x1="269.20" y1="51.80" x2="271.80" y2="51.80" stroke="#5e5e5e" stroke-width="0.9"/>
<line x1="269.20" y1="2.30" x2="271.80" y2="2.30" stroke="#5e5e5e" stroke-width="0.9"/>
<line x1="271.80" y1="398.30" x2="271.80" y2="400.90" stroke="#5e5e5e" stroke-width="0.9"/>
<text class="t" x="271.80" y="408.6" font-size="8.3" text-anchor="middle">0.0</text>
<line x1="305.55" y1="398.30" x2="305.55" y2="400.90" stroke="#5e5e5e" stroke-width="0.9"/>
<text class="t" x="305.55" y="408.6" font-size="8.3" text-anchor="middle">0.5</text>
<line x1="339.30" y1="398.30" x2="339.30" y2="400.90" stroke="#5e5e5e" stroke-width="0.9"/>
<text class="t" x="339.30" y="408.6" font-size="8.3" text-anchor="middle">1.0</text>
<rect x="359.60" y="2.30" width="67.50" height="396.00" fill="none" stroke="#5e5e5e" stroke-width="0.9"/>
<line x1="357.00" y1="398.30" x2="359.60" y2="398.30" stroke="#5e5e5e" stroke-width="0.9"/>
<line x1="357.00" y1="348.80" x2="359.60" y2="348.80" stroke="#5e5e5e" stroke-width="0.9"/>
<line x1="357.00" y1="299.30" x2="359.60" y2="299.30" stroke="#5e5e5e" stroke-width="0.9"/>
<line x1="357.00" y1="249.80" x2="359.60" y2="249.80" stroke="#5e5e5e" stroke-width="0.9"/>
<line x1="357.00" y1="200.30" x2="359.60" y2="200.30" stroke="#5e5e5e" stroke-width="0.9"/>
<line x1="357.00" y1="150.80" x2="359.60" y2="150.80" stroke="#5e5e5e" stroke-width="0.9"/>
<line x1="357.00" y1="101.30" x2="359.60" y2="101.30" stroke="#5e5e5e" stroke-width="0.9"/>
<line x1="357.00" y1="51.80" x2="359.60" y2="51.80" stroke="#5e5e5e" stroke-width="0.9"/>
<line x1="357.00" y1="2.30" x2="359.60" y2="2.30" stroke="#5e5e5e" stroke-width="0.9"/>
<line x1="359.60" y1="398.30" x2="359.60" y2="400.90" stroke="#5e5e5e" stroke-width="0.9"/>
<text class="t" x="359.60" y="408.6" font-size="8.3" text-anchor="middle">0.0</text>
<line x1="393.35" y1="398.30" x2="393.35" y2="400.90" stroke="#5e5e5e" stroke-width="0.9"/>
<text class="t" x="393.35" y="408.6" font-size="8.3" text-anchor="middle">0.5</text>
<line x1="427.10" y1="398.30" x2="427.10" y2="400.90" stroke="#5e5e5e" stroke-width="0.9"/>
<text class="t" x="427.10" y="408.6" font-size="8.3" text-anchor="middle">1.0</text>
<rect x="447.40" y="2.30" width="67.50" height="396.00" fill="none" stroke="#5e5e5e" stroke-width="0.9"/>
<line x1="444.80" y1="398.30" x2="447.40" y2="398.30" stroke="#5e5e5e" stroke-width="0.9"/>
<line x1="444.80" y1="348.80" x2="447.40" y2="348.80" stroke="#5e5e5e" stroke-width="0.9"/>
<line x1="444.80" y1="299.30" x2="447.40" y2="299.30" stroke="#5e5e5e" stroke-width="0.9"/>
<line x1="444.80" y1="249.80" x2="447.40" y2="249.80" stroke="#5e5e5e" stroke-width="0.9"/>
<line x1="444.80" y1="200.30" x2="447.40" y2="200.30" stroke="#5e5e5e" stroke-width="0.9"/>
<line x1="444.80" y1="150.80" x2="447.40" y2="150.80" stroke="#5e5e5e" stroke-width="0.9"/>
<line x1="444.80" y1="101.30" x2="447.40" y2="101.30" stroke="#5e5e5e" stroke-width="0.9"/>
<line x1="444.80" y1="51.80" x2="447.40" y2="51.80" stroke="#5e5e5e" stroke-width="0.9"/>
<line x1="444.80" y1="2.30" x2="447.40" y2="2.30" stroke="#5e5e5e" stroke-width="0.9"/>
<line x1="447.40" y1="398.30" x2="447.40" y2="400.90" stroke="#5e5e5e" stroke-width="0.9"/>
<text class="t" x="447.40" y="408.6" font-size="8.3" text-anchor="middle">0.0</text>
<line x1="481.15" y1="398.30" x2="481.15" y2="400.90" stroke="#5e5e5e" stroke-width="0.9"/>
<text class="t" x="481.15" y="408.6" font-size="8.3" text-anchor="middle">0.5</text>
<line x1="514.90" y1="398.30" x2="514.90" y2="400.90" stroke="#5e5e5e" stroke-width="0.9"/>
<text class="t" x="514.90" y="408.6" font-size="8.3" text-anchor="middle">1.0</text>
<text class="t" x="4.3" y="401.90" font-size="8.3" text-anchor="end">0</text>
<text class="t" x="4.3" y="352.40" font-size="8.3" text-anchor="end">1</text>
<text class="t" x="4.3" y="302.90" font-size="8.3" text-anchor="end">2</text>
<text class="t" x="4.3" y="253.40" font-size="8.3" text-anchor="end">3</text>
<text class="t" x="4.3" y="203.90" font-size="8.3" text-anchor="end">4</text>
<text class="t" x="4.3" y="154.40" font-size="8.3" text-anchor="end">5</text>
<text class="t" x="4.3" y="104.90" font-size="8.3" text-anchor="end">6</text>
<text class="t" x="4.3" y="55.40" font-size="8.3" text-anchor="end">7</text>
<text class="t" x="4.3" y="5.90" font-size="8.3" text-anchor="end">8</text>
<text class="t" x="35.70" y="426.3" font-size="8.4">(a) <tspan font-weight="bold" font-style="italic" font-size="9.5">ϕ</tspan></text>
<text x="53.60" y="422.9" font-size="7.2">Θ</text>
<text x="53.80" y="428.5" font-size="6.4">1</text>
<text class="t" x="123.50" y="426.3" font-size="8.4">(b) <tspan font-weight="bold" font-style="italic" font-size="9.5">ϕ</tspan></text>
<text x="141.90" y="422.9" font-size="7.2">Θ</text>
<text x="142.10" y="428.5" font-size="6.4">2</text>
<text class="t" x="211.30" y="426.3" font-size="8.4">(c) <tspan font-weight="bold" font-style="italic" font-size="9.5">ϕ</tspan></text>
<text x="229.20" y="422.9" font-size="7.2">Θ</text>
<text x="229.40" y="428.5" font-size="6.4">3</text>
<text class="t" x="299.10" y="426.3" font-size="8.4">(d) <tspan font-weight="bold" font-style="italic" font-size="9.5">ϕ</tspan></text>
<text x="317.50" y="422.9" font-size="7.2">Θ</text>
<text x="317.70" y="428.5" font-size="6.4">4</text>
<text class="t" x="386.90" y="426.3" font-size="8.4">(e) <tspan font-weight="bold" font-style="italic" font-size="9.5">ϕ</tspan></text>
<text x="404.80" y="422.9" font-size="7.2">Θ</text>
<text x="405.00" y="428.5" font-size="6.4">8</text>
<text class="t" x="474.70" y="426.3" font-size="8.4">(f) <tspan font-weight="bold" font-style="italic" font-size="9.5">ϕ</tspan></text>
<text x="491.70" y="422.9" font-size="7.2">Θ</text>
<text x="491.90" y="428.5" font-size="6.4">10</text>
<line x1="109.19" y1="443.40" x2="109.19" y2="461.00" stroke="#4a2a6a" stroke-width="0.9"/>
<line x1="114.40" y1="443.40" x2="114.40" y2="461.00" stroke="#4a2a6a" stroke-width="0.9"/>
<line x1="119.62" y1="443.40" x2="119.62" y2="461.00" stroke="#4a2a6a" stroke-width="0.9"/>
<line x1="124.83" y1="443.40" x2="124.83" y2="461.00" stroke="#4a2a6a" stroke-width="0.9"/>
<line x1="130.04" y1="443.40" x2="130.04" y2="461.00" stroke="#4a2a6a" stroke-width="0.9"/>
<line x1="135.26" y1="443.40" x2="135.26" y2="461.00" stroke="#4a2a6a" stroke-width="0.9"/>
<line x1="140.47" y1="443.40" x2="140.47" y2="461.00" stroke="#4a2a6a" stroke-width="0.9"/>
<line x1="145.69" y1="443.40" x2="145.69" y2="461.00" stroke="#4a2a6a" stroke-width="0.9"/>
<line x1="150.90" y1="443.40" x2="150.90" y2="461.00" stroke="#4a2a6a" stroke-width="0.9"/>
<line x1="156.11" y1="443.40" x2="156.11" y2="461.00" stroke="#4a2a6a" stroke-width="0.9"/>
<line x1="161.33" y1="443.40" x2="161.33" y2="461.00" stroke="#4a2a6a" stroke-width="0.9"/>
<line x1="166.54" y1="443.40" x2="166.54" y2="461.00" stroke="#4a2a6a" stroke-width="0.9"/>
<line x1="171.76" y1="443.40" x2="171.76" y2="461.00" stroke="#4a2a6a" stroke-width="0.9"/>
<line x1="176.97" y1="443.40" x2="176.97" y2="461.00" stroke="#4a2a6a" stroke-width="0.9"/>
<line x1="182.18" y1="443.40" x2="182.18" y2="461.00" stroke="#4f306f" stroke-width="0.9"/>
<line x1="187.40" y1="443.40" x2="187.40" y2="461.00" stroke="#553675" stroke-width="0.9"/>
<line x1="192.61" y1="443.40" x2="192.61" y2="461.00" stroke="#5a3d7a" stroke-width="0.9"/>
<line x1="197.83" y1="443.40" x2="197.83" y2="461.00" stroke="#60437f" stroke-width="0.9"/>
<line x1="203.04" y1="443.40" x2="203.04" y2="461.00" stroke="#654984" stroke-width="0.9"/>
<line x1="208.25" y1="443.40" x2="208.25" y2="461.00" stroke="#6b4f8a" stroke-width="0.9"/>
<line x1="213.47" y1="443.40" x2="213.47" y2="461.00" stroke="#70558f" stroke-width="0.9"/>
<line x1="218.68" y1="443.40" x2="218.68" y2="461.00" stroke="#765b94" stroke-width="0.9"/>
<line x1="223.90" y1="443.40" x2="223.90" y2="461.00" stroke="#aa99c2" stroke-width="0.9"/>
<line x1="229.11" y1="443.40" x2="229.11" y2="461.00" stroke="#b3a3c8" stroke-width="0.9"/>
<line x1="234.32" y1="443.40" x2="234.32" y2="461.00" stroke="#bbadce" stroke-width="0.9"/>
<line x1="239.54" y1="443.40" x2="239.54" y2="461.00" stroke="#c4b7d5" stroke-width="0.9"/>
<line x1="244.75" y1="443.40" x2="244.75" y2="461.00" stroke="#ccc1db" stroke-width="0.9"/>
<line x1="249.97" y1="443.40" x2="249.97" y2="461.00" stroke="#d5cbe2" stroke-width="0.9"/>
<line x1="255.18" y1="443.40" x2="255.18" y2="461.00" stroke="#ddd5e8" stroke-width="0.9"/>
<line x1="260.39" y1="443.40" x2="260.39" y2="461.00" stroke="#e6dfee" stroke-width="0.9"/>
<line x1="265.61" y1="443.40" x2="265.61" y2="461.00" stroke="#efefef" stroke-width="0.9"/>
<line x1="270.82" y1="443.40" x2="270.82" y2="461.00" stroke="#efefef" stroke-width="0.9"/>
<line x1="276.04" y1="443.40" x2="276.04" y2="461.00" stroke="#efefef" stroke-width="0.9"/>
<line x1="281.25" y1="443.40" x2="281.25" y2="461.00" stroke="#efefef" stroke-width="0.9"/>
<line x1="286.46" y1="443.40" x2="286.46" y2="461.00" stroke="#efefef" stroke-width="0.9"/>
<line x1="291.68" y1="443.40" x2="291.68" y2="461.00" stroke="#efefef" stroke-width="0.9"/>
<line x1="296.89" y1="443.40" x2="296.89" y2="461.00" stroke="#efefef" stroke-width="0.9"/>
<line x1="302.11" y1="443.40" x2="302.11" y2="461.00" stroke="#f6e9ce" stroke-width="0.9"/>
<line x1="307.32" y1="443.40" x2="307.32" y2="461.00" stroke="#f5e4be" stroke-width="0.9"/>
<line x1="312.53" y1="443.40" x2="312.53" y2="461.00" stroke="#f5dfad" stroke-width="0.9"/>
<line x1="317.75" y1="443.40" x2="317.75" y2="461.00" stroke="#f4da9d" stroke-width="0.9"/>
<line x1="322.96" y1="443.40" x2="322.96" y2="461.00" stroke="#f4d48d" stroke-width="0.9"/>
<line x1="328.18" y1="443.40" x2="328.18" y2="461.00" stroke="#f3cf7d" stroke-width="0.9"/>
<line x1="333.39" y1="443.40" x2="333.39" y2="461.00" stroke="#f3ca6c" stroke-width="0.9"/>
<line x1="338.60" y1="443.40" x2="338.60" y2="461.00" stroke="#f2c55c" stroke-width="0.9"/>
<line x1="343.82" y1="443.40" x2="343.82" y2="461.00" stroke="#f0ba47" stroke-width="0.9"/>
<line x1="349.03" y1="443.40" x2="349.03" y2="461.00" stroke="#efb845" stroke-width="0.9"/>
<line x1="354.25" y1="443.40" x2="354.25" y2="461.00" stroke="#eeb643" stroke-width="0.9"/>
<line x1="359.46" y1="443.40" x2="359.46" y2="461.00" stroke="#eeb441" stroke-width="0.9"/>
<line x1="364.67" y1="443.40" x2="364.67" y2="461.00" stroke="#edb13f" stroke-width="0.9"/>
<line x1="369.89" y1="443.40" x2="369.89" y2="461.00" stroke="#ecaf3d" stroke-width="0.9"/>
<line x1="375.10" y1="443.40" x2="375.10" y2="461.00" stroke="#ecad3b" stroke-width="0.9"/>
<line x1="380.32" y1="443.40" x2="380.32" y2="461.00" stroke="#ebab39" stroke-width="0.9"/>
<line x1="385.53" y1="443.40" x2="385.53" y2="461.00" stroke="#eaa837" stroke-width="0.9"/>
<line x1="390.74" y1="443.40" x2="390.74" y2="461.00" stroke="#eaa635" stroke-width="0.9"/>
<line x1="395.96" y1="443.40" x2="395.96" y2="461.00" stroke="#e9a433" stroke-width="0.9"/>
<line x1="401.17" y1="443.40" x2="401.17" y2="461.00" stroke="#e8a231" stroke-width="0.9"/>
<line x1="406.39" y1="443.40" x2="406.39" y2="461.00" stroke="#e8a030" stroke-width="0.9"/>
<line x1="411.60" y1="443.40" x2="411.60" y2="461.00" stroke="#e8a030" stroke-width="0.9"/>
<line x1="416.81" y1="443.40" x2="416.81" y2="461.00" stroke="#e8a030" stroke-width="0.9"/>
<line x1="422.03" y1="443.40" x2="422.03" y2="461.00" stroke="#e8a030" stroke-width="0.9"/>
<line x1="427.24" y1="443.40" x2="427.24" y2="461.00" stroke="#e8a030" stroke-width="0.9"/>
<line x1="432.46" y1="443.40" x2="432.46" y2="461.00" stroke="#e8a030" stroke-width="0.9"/>
<rect x="109.40" y="443.40" width="323.20" height="17.60" fill="none" stroke="#5e5e5e" stroke-width="0.9"/>
<line x1="135.25" y1="461.00" x2="135.25" y2="463.60" stroke="#5e5e5e" stroke-width="0.9"/>
<text class="t" x="135.25" y="471.4" font-size="8.3" text-anchor="middle">−2.24</text>
<line x1="171.75" y1="461.00" x2="171.75" y2="463.60" stroke="#5e5e5e" stroke-width="0.9"/>
<text class="t" x="171.75" y="471.4" font-size="8.3" text-anchor="middle">−1.68</text>
<line x1="208.25" y1="461.00" x2="208.25" y2="463.60" stroke="#5e5e5e" stroke-width="0.9"/>
<text class="t" x="208.25" y="471.4" font-size="8.3" text-anchor="middle">−1.12</text>
<line x1="244.75" y1="461.00" x2="244.75" y2="463.60" stroke="#5e5e5e" stroke-width="0.9"/>
<text class="t" x="244.75" y="471.4" font-size="8.3" text-anchor="middle">−0.56</text>
<line x1="281.25" y1="461.00" x2="281.25" y2="463.60" stroke="#5e5e5e" stroke-width="0.9"/>
<text class="t" x="281.25" y="471.4" font-size="8.3" text-anchor="middle">0.00</text>
<line x1="317.75" y1="461.00" x2="317.75" y2="463.60" stroke="#5e5e5e" stroke-width="0.9"/>
<text class="t" x="317.75" y="471.4" font-size="8.3" text-anchor="middle">0.56</text>
<line x1="354.25" y1="461.00" x2="354.25" y2="463.60" stroke="#5e5e5e" stroke-width="0.9"/>
<text class="t" x="354.25" y="471.4" font-size="8.3" text-anchor="middle">1.12</text>
<line x1="390.75" y1="461.00" x2="390.75" y2="463.60" stroke="#5e5e5e" stroke-width="0.9"/>
<text class="t" x="390.75" y="471.4" font-size="8.3" text-anchor="middle">1.68</text>
<line x1="427.25" y1="461.00" x2="427.25" y2="463.60" stroke="#5e5e5e" stroke-width="0.9"/>
<text class="t" x="427.25" y="471.4" font-size="8.3" text-anchor="middle">2.24</text>
</svg></body></html>
